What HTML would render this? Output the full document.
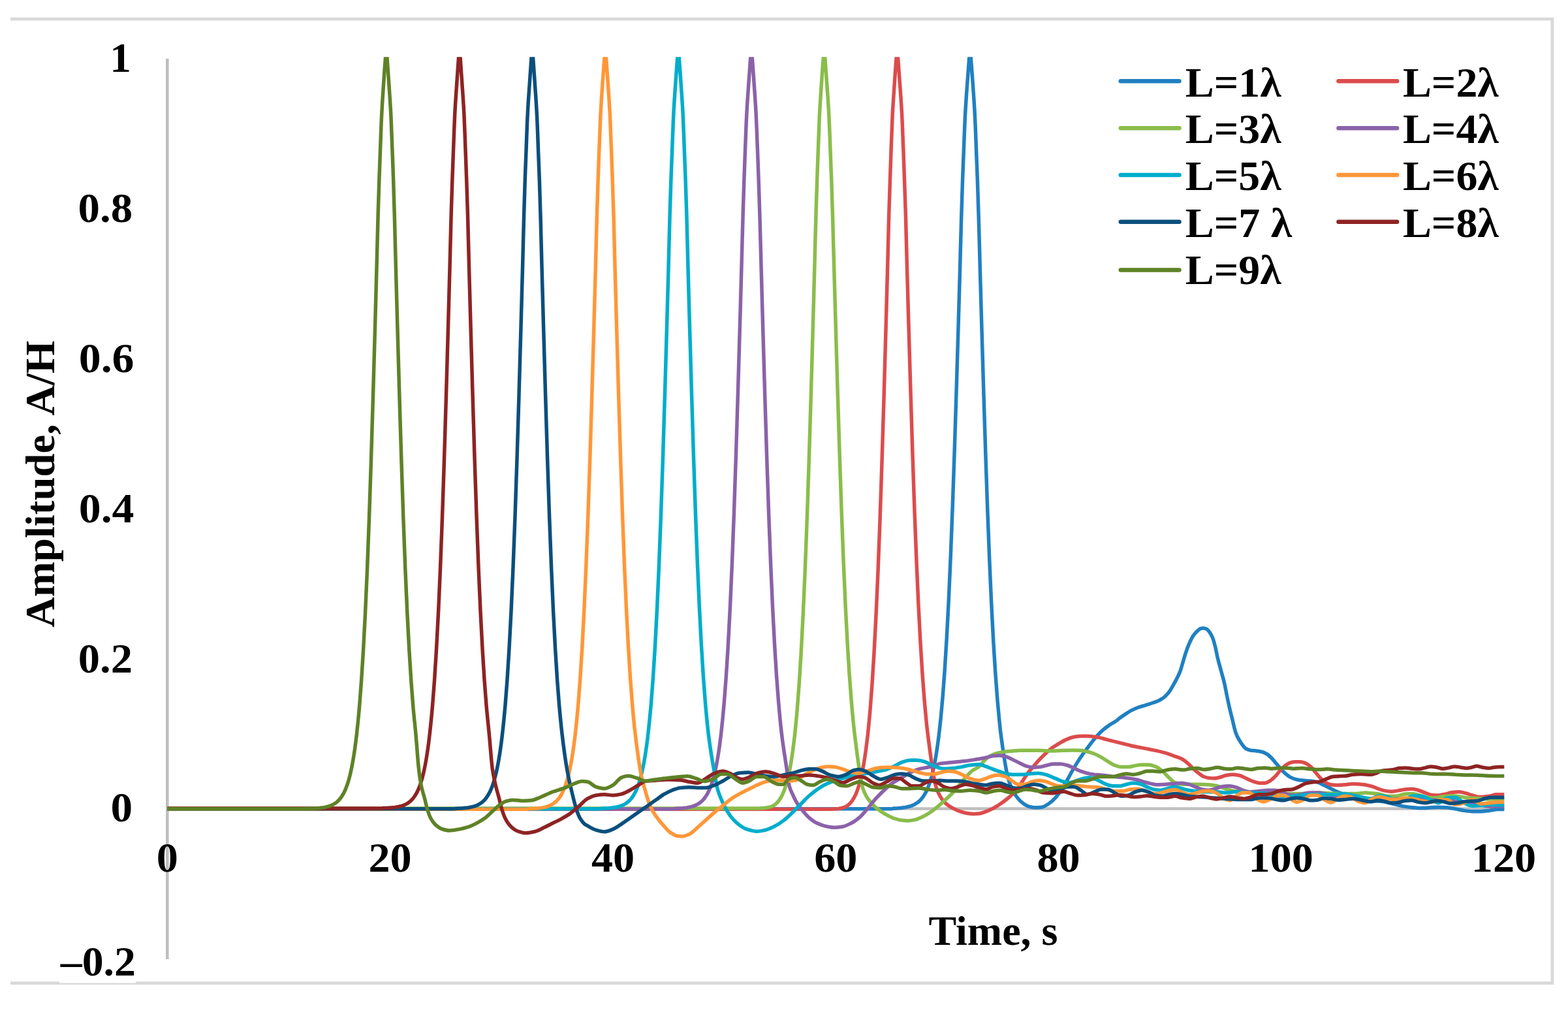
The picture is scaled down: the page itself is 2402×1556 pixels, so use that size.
<!DOCTYPE html>
<html lang="en">
<head>
<meta charset="utf-8">
<title>Amplitude vs Time</title>
<style>
html,body{margin:0;padding:0;background:#fff;}
body{width:2402px;height:1556px;overflow:hidden;}
svg{display:block;}
text{font-family:"Liberation Serif","DejaVu Serif",serif;font-weight:bold;font-size:64px;fill:#000;}
.s{fill:none;stroke-width:5.5;stroke-linejoin:miter;stroke-miterlimit:3;stroke-linecap:butt;}
.lg{fill:none;stroke-width:6.6;stroke-linecap:round;}
</style>
</head>
<body>
<svg width="2402" height="1556" viewBox="0 0 2402 1556">
<rect x="0" y="0" width="2402" height="1556" fill="#ffffff"/>
<path d="M16 29.1H2378V1505.7H16" fill="none" stroke="#d9d9d9" stroke-width="4.8" stroke-linejoin="miter"/>
<rect x="91" y="1440" width="117" height="65.5" fill="#ffffff"/>
<path d="M256.3 89.8V1469.1" fill="none" stroke="#bfbfbf" stroke-width="4.6"/>
<path d="M254.0 1238.5H2304.3" fill="none" stroke="#bfbfbf" stroke-width="4.6"/>
<text transform="translate(201.0 110.0) scale(1.020 1)" text-anchor="end">1</text>
<text transform="translate(203.2 340.3) scale(1.045 1)" text-anchor="end">0.8</text>
<text transform="translate(205.5 570.1) scale(1.060 1)" text-anchor="end">0.6</text>
<text transform="translate(205.5 799.8) scale(1.060 1)" text-anchor="end">0.4</text>
<text transform="translate(203.0 1029.6) scale(1.040 1)" text-anchor="end">0.2</text>
<text transform="translate(203.0 1258.3) scale(1.050 1)" text-anchor="end">0</text>
<text transform="translate(207.9 1493.7) scale(1.028 1)" text-anchor="end">–0.2</text>
<text transform="translate(256.3 1334.9) scale(1.035 1)" text-anchor="middle">0</text>
<text transform="translate(597.6 1334.9) scale(1.035 1)" text-anchor="middle">20</text>
<text transform="translate(939.0 1334.9) scale(1.035 1)" text-anchor="middle">40</text>
<text transform="translate(1280.3 1334.9) scale(1.035 1)" text-anchor="middle">60</text>
<text transform="translate(1621.6 1334.9) scale(1.035 1)" text-anchor="middle">80</text>
<text transform="translate(1962.2 1334.9) scale(1.035 1)" text-anchor="middle">100</text>
<text transform="translate(2303.5 1334.9) scale(1.035 1)" text-anchor="middle">120</text>
<text transform="translate(1521.5 1446.8)" text-anchor="middle">Time, s</text>
<text transform="translate(82.6 741.3) rotate(-90) scale(1.013 1)" text-anchor="middle">Amplitude, A/H</text>
<path class="s" stroke="#2080c2" d="M256.3 1238.7C626.2 1238.7 996.1 1238.7 1366.0 1238.7C1367.0 1238.7 1368.0 1238.2 1369.0 1238.1C1370.0 1238.0 1371.0 1238.0 1372.0 1238.0C1373.0 1237.9 1374.0 1237.8 1375.0 1237.8C1376.0 1237.7 1377.0 1237.6 1378.0 1237.5C1379.0 1237.4 1380.0 1237.3 1381.0 1237.2C1382.0 1237.1 1383.0 1237.0 1384.0 1236.8C1385.0 1236.7 1386.0 1236.5 1387.0 1236.4C1388.0 1236.2 1389.0 1236.0 1390.0 1235.8C1391.0 1235.5 1392.0 1235.3 1393.0 1235.0C1394.0 1234.7 1395.0 1234.4 1396.0 1234.1C1397.0 1233.7 1398.0 1233.3 1399.0 1232.9C1400.0 1232.4 1401.0 1231.9 1402.0 1231.3C1403.0 1230.8 1404.0 1230.2 1405.0 1229.5C1406.0 1228.8 1407.0 1228.0 1408.0 1227.1C1409.0 1226.2 1410.0 1225.2 1411.0 1224.1C1412.0 1223.0 1413.0 1221.7 1414.0 1220.4C1415.0 1219.0 1416.0 1217.4 1417.0 1215.7C1418.0 1213.9 1419.0 1212.0 1420.0 1209.8C1421.0 1207.6 1422.0 1205.2 1423.0 1202.4C1424.0 1199.7 1425.0 1196.6 1426.0 1193.3C1427.0 1189.9 1428.0 1186.0 1429.0 1181.8C1430.0 1177.6 1431.0 1172.8 1432.0 1167.6C1433.0 1162.3 1434.0 1156.4 1435.0 1149.9C1436.0 1143.4 1437.0 1135.9 1438.0 1128.1C1438.2 1126.7 1438.3 1125.3 1438.5 1123.8C1439.4 1116.6 1440.2 1109.0 1441.1 1100.6C1442.1 1090.7 1443.1 1079.7 1444.1 1067.7C1445.1 1055.6 1446.1 1042.2 1447.1 1027.7C1448.1 1013.2 1449.1 997.1 1450.1 979.7C1451.1 962.3 1452.1 943.2 1453.1 922.7C1454.1 902.1 1455.1 879.7 1456.1 855.8C1457.1 832.0 1458.1 806.1 1459.1 779.0C1460.1 751.9 1461.1 722.6 1462.1 692.5C1463.1 662.4 1464.1 630.3 1465.1 597.9C1466.1 565.4 1467.1 531.9 1468.1 497.8C1468.9 469.5 1469.7 440.7 1470.6 410.9C1471.3 384.7 1472.0 354.4 1472.8 330.1C1473.4 309.8 1474.0 291.5 1474.6 274.5C1475.2 257.0 1475.9 241.7 1476.5 225.9C1477.2 209.3 1477.8 190.0 1478.5 177.3C1479.6 156.9 1480.6 143.8 1481.7 128.6C1482.7 114.9 1483.6 102.0 1484.6 90.0L1487.4 90.0C1488.4 102.0 1489.3 114.9 1490.3 128.6C1491.3 143.8 1492.4 156.9 1493.4 177.3C1494.1 190.0 1494.8 209.3 1495.4 225.9C1496.0 241.7 1496.7 257.0 1497.3 274.5C1497.9 291.5 1498.5 309.8 1499.1 330.1C1499.9 354.4 1500.6 384.7 1501.3 410.9C1502.1 440.9 1503.0 469.9 1503.8 498.5C1504.8 532.8 1505.8 566.6 1506.8 599.3C1507.8 631.9 1508.8 664.2 1509.8 694.5C1510.8 724.8 1511.8 754.2 1512.8 781.4C1513.8 808.7 1514.8 834.7 1515.8 858.6C1516.8 882.4 1517.8 904.9 1518.8 925.5C1519.8 946.0 1520.8 965.1 1521.8 982.5C1522.8 999.8 1523.8 1015.9 1524.8 1030.4C1525.8 1044.9 1526.8 1058.2 1527.8 1070.1C1528.8 1082.1 1529.8 1093.0 1530.8 1102.9C1531.6 1110.4 1532.3 1118.0 1533.1 1123.8C1536.8 1151.8 1540.4 1176.6 1544.1 1190.8C1545.8 1197.5 1547.6 1202.4 1549.3 1206.4C1551.4 1211.3 1553.6 1215.0 1555.8 1218.0C1558.8 1222.3 1561.8 1225.9 1564.9 1228.4C1568.3 1231.2 1571.8 1233.9 1575.2 1234.9C1578.7 1235.9 1582.1 1236.8 1585.6 1236.8C1589.1 1236.8 1592.5 1236.6 1596.0 1236.2C1599.4 1235.8 1602.9 1233.2 1606.4 1231.0C1609.8 1228.8 1613.3 1225.6 1616.7 1221.9C1620.2 1218.2 1623.6 1212.9 1627.1 1207.7C1629.7 1203.7 1632.3 1199.2 1634.9 1194.7C1637.5 1190.2 1640.1 1184.9 1642.7 1180.4C1645.3 1175.9 1647.9 1171.5 1650.5 1167.4C1653.0 1163.3 1655.6 1159.4 1658.2 1155.8C1660.8 1152.1 1663.4 1148.9 1666.0 1145.4C1668.6 1141.9 1671.2 1138.2 1673.8 1135.0C1676.4 1131.8 1679.0 1128.7 1681.6 1125.9C1684.2 1123.1 1686.8 1120.4 1689.4 1118.2C1692.8 1115.2 1696.3 1112.7 1699.7 1110.4C1703.2 1108.0 1706.7 1106.4 1710.1 1103.9C1711.7 1102.8 1713.3 1101.2 1714.9 1100.0C1717.4 1098.0 1720.0 1096.3 1722.6 1094.6C1726.1 1092.3 1729.6 1089.8 1733.0 1088.1C1736.5 1086.3 1739.9 1084.8 1743.4 1083.5C1746.8 1082.3 1750.3 1081.4 1753.8 1080.3C1757.2 1079.2 1760.7 1078.2 1764.1 1077.0C1767.6 1075.9 1771.1 1074.7 1774.5 1073.2C1777.1 1072.0 1779.7 1070.5 1782.3 1068.6C1784.9 1066.7 1787.5 1064.0 1790.1 1060.8C1792.2 1058.2 1794.4 1054.1 1796.6 1050.5C1798.7 1046.8 1800.9 1043.1 1803.0 1038.8C1804.8 1035.3 1806.5 1031.8 1808.2 1027.1C1809.5 1023.6 1810.8 1018.5 1812.1 1014.1C1813.4 1009.8 1814.7 1005.1 1816.0 1001.2C1817.7 995.9 1819.5 990.9 1821.2 986.9C1823.4 981.9 1825.5 977.1 1827.7 973.9C1829.9 970.8 1832.0 968.4 1834.2 966.4C1835.7 965.0 1837.2 963.4 1838.7 962.9C1840.2 962.4 1841.7 961.9 1843.3 961.9C1844.9 961.9 1846.5 962.5 1848.2 963.3C1849.7 964.0 1851.1 965.8 1852.6 967.7C1854.2 969.8 1855.9 972.7 1857.5 976.5C1858.8 979.6 1860.1 984.5 1861.4 989.5C1862.7 994.5 1864.0 1002.2 1865.3 1007.7C1867.0 1014.9 1868.8 1020.6 1870.5 1027.1C1872.2 1033.6 1874.0 1039.1 1875.7 1046.6C1877.0 1052.2 1878.3 1059.8 1879.6 1066.0C1880.9 1072.3 1882.2 1078.5 1883.5 1084.2C1884.8 1089.8 1886.1 1094.8 1887.4 1100.0C1889.4 1108.0 1891.4 1118.1 1893.4 1123.3C1895.1 1127.9 1896.8 1130.8 1898.6 1133.7C1900.3 1136.7 1902.0 1139.4 1903.8 1141.5C1905.5 1143.6 1907.2 1145.8 1908.9 1146.7C1911.5 1148.0 1914.1 1148.9 1916.7 1149.3C1919.3 1149.6 1921.9 1149.6 1924.5 1149.9C1927.1 1150.2 1929.7 1150.6 1932.3 1151.2C1934.9 1151.8 1937.5 1153.0 1940.1 1154.5C1942.7 1155.9 1945.3 1158.4 1947.9 1161.0C1950.5 1163.5 1953.0 1167.0 1955.6 1170.0C1957.8 1172.6 1960.0 1175.5 1962.1 1177.8C1964.3 1180.2 1966.5 1182.4 1968.6 1184.3C1971.2 1186.5 1973.8 1188.8 1976.4 1190.1C1979.9 1191.9 1983.3 1193.4 1986.8 1194.0C1990.2 1194.7 1993.7 1195.0 1997.1 1195.3C2000.6 1195.6 2004.1 1195.7 2007.5 1196.0C2011.0 1196.3 2014.4 1197.0 2017.9 1197.9C2021.4 1198.8 2024.8 1200.9 2028.3 1202.5C2031.7 1204.1 2035.2 1205.9 2038.7 1207.7C2042.1 1209.4 2045.6 1211.4 2049.0 1212.8C2052.5 1214.3 2055.9 1215.6 2059.4 1216.7C2063.7 1218.2 2068.1 1219.4 2072.4 1220.6C2076.7 1221.8 2081.0 1222.9 2085.3 1223.9C2090.2 1225.0 2095.1 1226.7 2100.0 1226.8C2104.3 1227.0 2108.6 1227.0 2113.0 1227.1C2117.3 1227.3 2121.6 1228.2 2125.9 1229.1C2130.3 1229.9 2134.6 1231.3 2138.9 1232.3C2143.2 1233.3 2147.6 1234.4 2151.9 1235.1C2156.2 1235.9 2160.5 1236.5 2164.9 1236.8C2169.2 1237.1 2173.5 1237.5 2177.8 1237.5C2182.1 1237.5 2186.5 1237.1 2190.8 1236.8C2195.1 1236.6 2199.4 1236.2 2203.8 1236.2C2208.1 1236.2 2212.4 1236.5 2216.7 1236.8C2221.1 1237.2 2225.4 1238.0 2229.7 1238.8C2234.0 1239.5 2238.3 1240.8 2242.7 1241.4C2247.0 1242.0 2251.3 1242.7 2255.6 1242.7C2260.0 1242.7 2264.3 1242.7 2268.6 1242.7C2272.9 1242.7 2277.3 1241.9 2281.6 1241.4C2285.9 1240.9 2290.2 1239.4 2294.6 1239.4C2297.8 1239.4 2301.1 1239.4 2304.3 1239.4"/>
<path class="s" stroke="#dc4c4c" d="M256.3 1239.3C589.0 1239.3 921.6 1239.3 1254.3 1239.3C1255.3 1239.3 1256.3 1239.3 1257.3 1239.3C1258.3 1239.3 1259.3 1239.3 1260.3 1239.3C1261.3 1239.3 1262.3 1239.3 1263.3 1239.3C1264.3 1239.3 1265.3 1239.3 1266.3 1239.2C1267.3 1239.2 1268.3 1239.2 1269.3 1239.2C1270.3 1239.2 1271.3 1239.2 1272.3 1239.2C1273.3 1239.1 1274.3 1239.1 1275.3 1239.1C1276.3 1239.1 1277.3 1239.0 1278.3 1239.0C1279.3 1238.9 1280.3 1238.8 1281.3 1238.8C1282.3 1238.7 1283.3 1238.6 1284.3 1238.5C1285.3 1238.3 1286.3 1238.2 1287.3 1238.0C1288.3 1237.8 1289.3 1237.6 1290.3 1237.3C1291.3 1237.1 1292.3 1236.7 1293.3 1236.4C1294.3 1236.0 1295.3 1235.5 1296.3 1234.9C1297.3 1234.4 1298.3 1233.7 1299.3 1232.9C1300.3 1232.2 1301.3 1231.2 1302.3 1230.2C1303.3 1229.1 1304.3 1227.9 1305.3 1226.5C1306.3 1225.1 1307.3 1223.5 1308.3 1221.7C1309.3 1219.9 1310.3 1217.8 1311.3 1215.5C1312.3 1213.2 1313.3 1210.5 1314.3 1207.6C1315.3 1204.6 1316.3 1201.3 1317.3 1197.5C1318.3 1193.8 1319.3 1189.6 1320.3 1185.0C1321.3 1180.4 1322.3 1175.1 1323.3 1169.3C1324.3 1163.5 1325.3 1156.9 1326.3 1149.7C1327.2 1143.0 1328.1 1135.6 1329.1 1127.3C1330.4 1115.1 1331.8 1101.2 1333.1 1085.5C1334.1 1073.9 1335.1 1060.5 1336.1 1046.0C1337.1 1031.5 1338.1 1015.3 1339.1 997.9C1340.1 980.4 1341.1 960.9 1342.1 940.1C1343.1 919.4 1344.1 896.9 1345.1 872.8C1346.1 848.6 1347.1 822.2 1348.1 794.4C1349.1 766.6 1350.1 736.4 1351.1 705.2C1352.1 674.0 1353.1 640.6 1354.1 606.8C1355.1 572.9 1356.1 537.7 1357.1 502.0C1357.9 472.3 1358.8 442.2 1359.6 410.9C1360.3 384.7 1361.0 354.4 1361.7 330.1C1362.3 309.8 1362.9 291.5 1363.5 274.5C1364.0 257.0 1364.7 241.7 1365.2 225.9C1365.9 209.3 1366.5 190.0 1367.1 177.3C1368.2 156.9 1369.2 143.8 1370.2 128.6C1371.1 114.9 1372.0 102.0 1373.0 90.0L1375.7 90.0C1376.6 102.0 1377.6 114.9 1378.5 128.6C1379.6 143.8 1380.7 156.9 1381.7 177.3C1382.4 190.0 1383.0 209.3 1383.7 225.9C1384.3 241.7 1384.9 257.0 1385.5 274.5C1386.1 291.5 1386.8 309.8 1387.4 330.1C1388.1 354.4 1388.8 384.7 1389.5 410.9C1390.4 441.1 1391.2 470.2 1392.0 498.9C1393.0 533.4 1394.0 567.4 1395.0 600.2C1396.0 633.0 1397.0 665.5 1398.0 695.9C1399.0 726.3 1400.0 755.8 1401.0 783.1C1402.0 810.4 1403.0 836.4 1404.0 860.4C1405.0 884.3 1406.0 906.8 1407.0 927.3C1408.0 947.9 1409.0 967.0 1410.0 984.3C1411.0 1001.7 1412.0 1017.7 1413.0 1032.1C1414.0 1046.6 1415.0 1059.9 1416.0 1071.8C1417.0 1083.7 1418.0 1094.5 1419.0 1104.4C1419.7 1111.4 1420.5 1118.2 1421.2 1123.8C1425.3 1156.2 1429.4 1189.3 1433.5 1203.8C1434.8 1208.3 1436.1 1211.4 1437.4 1214.1C1439.1 1217.8 1440.8 1220.8 1442.5 1223.2C1444.7 1226.3 1446.9 1228.9 1449.0 1230.7C1452.5 1233.8 1455.9 1235.9 1459.4 1237.7C1462.9 1239.6 1466.3 1241.2 1469.8 1242.4C1473.2 1243.6 1476.7 1244.8 1480.2 1245.3C1484.0 1245.8 1487.9 1246.4 1491.8 1246.4C1494.6 1246.4 1497.3 1246.3 1500.0 1246.0C1503.5 1245.8 1506.9 1244.2 1510.4 1242.9C1513.8 1241.7 1517.3 1240.0 1520.8 1238.3C1524.2 1236.5 1527.7 1234.3 1531.1 1232.0C1534.6 1229.8 1538.0 1227.3 1541.5 1224.5C1545.0 1221.8 1548.4 1218.9 1551.9 1215.4C1554.5 1212.8 1557.1 1209.8 1559.7 1206.4C1562.3 1203.0 1564.9 1198.6 1567.4 1194.7C1570.0 1190.8 1572.6 1186.4 1575.2 1183.0C1577.8 1179.6 1580.4 1177.0 1583.0 1173.9C1585.6 1170.9 1588.2 1167.7 1590.8 1164.9C1594.2 1161.1 1597.7 1157.7 1601.2 1154.5C1604.6 1151.2 1608.1 1147.9 1611.5 1145.4C1615.0 1142.9 1618.5 1141.0 1621.9 1138.9C1625.4 1136.9 1628.8 1134.6 1632.3 1133.1C1635.8 1131.5 1639.2 1130.0 1642.7 1129.2C1646.1 1128.4 1649.6 1127.6 1653.0 1127.5C1656.5 1127.3 1660.0 1127.2 1663.4 1127.2C1666.9 1127.2 1670.3 1127.6 1673.8 1127.9C1677.3 1128.2 1680.7 1128.9 1684.2 1129.6C1687.6 1130.3 1691.1 1131.5 1694.6 1132.4C1698.9 1133.6 1703.2 1134.6 1707.5 1135.7C1711.8 1136.7 1716.2 1137.8 1720.5 1138.9C1724.8 1140.0 1729.1 1141.2 1733.5 1142.2C1737.8 1143.1 1742.1 1143.9 1746.4 1144.7C1750.8 1145.6 1755.1 1146.5 1759.4 1147.3C1763.7 1148.2 1768.1 1149.0 1772.4 1149.9C1776.7 1150.9 1781.0 1151.9 1785.3 1153.2C1790.2 1154.6 1795.1 1156.6 1800.0 1158.4C1803.5 1159.6 1806.9 1160.5 1810.4 1162.3C1813.8 1164.0 1817.3 1167.1 1820.8 1170.0C1823.3 1172.3 1825.9 1175.5 1828.5 1177.8C1831.1 1180.2 1833.7 1182.4 1836.3 1184.3C1838.9 1186.2 1841.5 1188.6 1844.1 1189.5C1846.7 1190.4 1849.3 1191.1 1851.9 1191.4C1854.5 1191.8 1857.1 1192.1 1859.7 1192.1C1862.3 1192.1 1864.9 1191.3 1867.4 1190.8C1870.9 1190.1 1874.4 1188.2 1877.8 1187.5C1881.3 1186.9 1884.7 1186.3 1888.2 1186.3C1891.7 1186.3 1895.1 1186.9 1898.6 1187.5C1902.0 1188.2 1905.5 1190.6 1908.9 1192.1C1912.4 1193.6 1915.9 1195.5 1919.3 1196.6C1922.8 1197.7 1926.2 1199.2 1929.7 1199.2C1932.3 1199.2 1934.9 1199.2 1937.5 1199.2C1940.1 1199.2 1942.7 1197.4 1945.3 1196.0C1947.9 1194.5 1950.5 1192.0 1953.0 1189.5C1955.6 1187.0 1958.2 1183.2 1960.8 1180.4C1963.4 1177.6 1966.0 1174.5 1968.6 1172.6C1971.2 1170.7 1973.8 1168.8 1976.4 1168.1C1979.0 1167.4 1981.6 1166.8 1984.2 1166.8C1986.8 1166.8 1989.4 1166.8 1992.0 1166.8C1994.6 1166.8 1997.1 1167.8 1999.7 1168.7C2002.3 1169.7 2004.9 1171.7 2007.5 1173.9C2010.1 1176.1 2012.7 1180.0 2015.3 1183.0C2017.9 1186.0 2020.5 1189.6 2023.1 1192.1C2025.7 1194.6 2028.3 1197.1 2030.9 1198.6C2033.5 1200.0 2036.1 1201.5 2038.7 1201.8C2042.1 1202.2 2045.6 1202.5 2049.0 1202.5C2052.5 1202.5 2055.9 1202.1 2059.4 1201.8C2063.7 1201.5 2068.1 1200.5 2072.4 1200.5C2076.7 1200.5 2081.0 1200.8 2085.3 1201.2C2090.2 1201.5 2095.1 1202.6 2100.0 1203.8C2103.5 1204.6 2106.9 1206.5 2110.4 1207.7C2113.8 1208.8 2117.3 1210.3 2120.8 1210.9C2124.2 1211.5 2127.7 1212.2 2131.1 1212.2C2134.6 1212.2 2138.0 1211.4 2141.5 1210.9C2145.0 1210.4 2148.4 1209.3 2151.9 1208.9C2155.3 1208.6 2158.8 1208.3 2162.3 1208.3C2165.7 1208.3 2169.2 1209.4 2172.6 1210.2C2176.1 1211.1 2179.6 1213.0 2183.0 1214.1C2186.5 1215.3 2189.9 1217.0 2193.4 1217.4C2196.8 1217.7 2200.3 1218.0 2203.8 1218.0C2207.2 1218.0 2210.7 1216.8 2214.1 1216.1C2217.6 1215.3 2221.1 1213.8 2224.5 1213.5C2228.0 1213.1 2231.4 1212.8 2234.9 1212.8C2238.3 1212.8 2241.8 1214.0 2245.3 1214.8C2248.7 1215.6 2252.2 1217.1 2255.6 1218.0C2259.1 1219.0 2262.6 1220.6 2266.0 1220.6C2271.2 1220.6 2276.4 1220.0 2281.6 1219.3C2285.0 1218.9 2288.5 1216.7 2292.0 1216.7C2296.1 1216.7 2300.2 1216.7 2304.3 1216.7"/>
<path class="s" stroke="#8abd4a" d="M256.3 1238.1C551.7 1238.1 847.1 1238.1 1142.5 1238.1C1143.5 1238.1 1144.5 1238.1 1145.5 1238.1C1146.5 1238.1 1147.5 1238.1 1148.5 1238.1C1149.5 1238.1 1150.5 1238.1 1151.5 1238.1C1152.5 1238.1 1153.5 1238.1 1154.5 1238.0C1155.5 1238.0 1156.5 1238.0 1157.5 1238.0C1158.5 1238.0 1159.5 1238.0 1160.5 1238.0C1161.5 1237.9 1162.5 1237.9 1163.5 1237.9C1164.5 1237.9 1165.5 1237.8 1166.5 1237.8C1167.5 1237.7 1168.5 1237.7 1169.5 1237.6C1170.5 1237.5 1171.5 1237.4 1172.5 1237.3C1173.5 1237.2 1174.5 1237.0 1175.5 1236.8C1176.5 1236.7 1177.5 1236.5 1178.5 1236.2C1179.5 1235.9 1180.5 1235.6 1181.5 1235.2C1182.5 1234.8 1183.5 1234.4 1184.5 1233.8C1185.5 1233.3 1186.5 1232.6 1187.5 1231.9C1188.5 1231.1 1189.5 1230.2 1190.5 1229.2C1191.5 1228.2 1192.5 1227.0 1193.5 1225.6C1194.5 1224.3 1195.5 1222.7 1196.5 1221.0C1197.5 1219.2 1198.5 1217.2 1199.5 1214.9C1200.5 1212.6 1201.5 1210.1 1202.5 1207.2C1203.5 1204.3 1204.5 1201.1 1205.5 1197.4C1206.5 1193.8 1207.5 1189.6 1208.5 1185.0C1209.5 1180.4 1210.5 1175.1 1211.5 1169.3C1212.5 1163.5 1213.5 1156.9 1214.5 1149.7C1215.4 1143.0 1216.3 1135.6 1217.3 1127.3C1218.6 1115.1 1220.0 1101.2 1221.3 1085.5C1222.3 1073.9 1223.3 1060.5 1224.3 1046.0C1225.3 1031.5 1226.3 1015.3 1227.3 997.9C1228.3 980.4 1229.3 960.9 1230.3 940.1C1231.3 919.4 1232.3 896.9 1233.3 872.8C1234.3 848.6 1235.3 822.2 1236.3 794.4C1237.3 766.6 1238.3 736.4 1239.3 705.2C1240.3 674.0 1241.3 640.6 1242.3 606.8C1243.3 572.9 1244.3 537.7 1245.3 502.0C1246.1 472.3 1247.0 442.2 1247.8 410.9C1248.5 384.7 1249.2 354.4 1249.9 330.1C1250.5 309.8 1251.1 291.5 1251.7 274.5C1252.2 257.0 1252.9 241.7 1253.5 225.9C1254.1 209.3 1254.7 190.0 1255.3 177.3C1256.4 156.9 1257.4 143.8 1258.4 128.6C1259.3 114.9 1260.2 102.0 1261.2 90.0L1263.9 90.0C1264.8 102.0 1265.8 114.9 1266.7 128.6C1267.8 143.8 1268.8 156.9 1269.9 177.3C1270.5 190.0 1271.2 209.3 1271.8 225.9C1272.4 241.7 1273.1 257.0 1273.7 274.5C1274.3 291.5 1274.9 309.8 1275.5 330.1C1276.2 354.4 1276.9 384.7 1277.7 410.9C1278.5 441.2 1279.3 470.5 1280.2 499.4C1281.2 534.0 1282.2 568.2 1283.2 601.1C1284.2 634.1 1285.2 666.7 1286.2 697.2C1287.2 727.7 1288.2 757.3 1289.2 784.7C1290.2 812.1 1291.2 838.2 1292.2 862.2C1293.2 886.1 1294.2 908.7 1295.2 929.2C1296.2 949.7 1297.2 968.9 1298.2 986.2C1299.2 1003.5 1300.2 1019.5 1301.2 1033.9C1302.2 1048.3 1303.2 1061.8 1304.2 1073.4C1305.8 1092.6 1307.5 1110.2 1309.1 1123.8C1313.4 1158.9 1317.7 1194.3 1321.9 1207.7C1323.6 1213.1 1325.4 1216.3 1327.1 1219.3C1329.3 1223.1 1331.4 1225.9 1333.6 1228.4C1336.6 1232.0 1339.6 1235.0 1342.7 1237.5C1347.0 1241.1 1351.3 1244.0 1355.6 1246.6C1360.0 1249.1 1364.3 1251.6 1368.6 1253.0C1372.9 1254.5 1377.3 1255.8 1381.6 1256.3C1384.6 1256.6 1387.6 1256.9 1390.7 1256.9C1394.1 1256.9 1397.6 1256.3 1401.0 1255.6C1405.4 1254.8 1409.7 1252.5 1414.0 1250.5C1418.3 1248.4 1422.7 1245.6 1427.0 1242.7C1431.3 1239.7 1435.6 1236.0 1439.9 1232.3C1444.3 1228.6 1448.6 1224.7 1452.9 1220.6C1456.4 1217.3 1459.8 1214.1 1463.3 1210.2C1466.3 1206.8 1469.3 1202.2 1472.4 1198.6C1475.4 1194.9 1478.4 1191.4 1481.5 1188.2C1484.0 1185.4 1486.6 1182.4 1489.2 1180.4C1492.8 1177.7 1496.4 1176.8 1500.0 1173.9C1502.6 1171.8 1505.2 1167.4 1507.8 1164.9C1510.4 1162.3 1513.0 1159.9 1515.6 1158.4C1519.0 1156.4 1522.5 1154.8 1525.9 1153.8C1530.3 1152.6 1534.6 1151.8 1538.9 1151.2C1543.2 1150.7 1547.6 1150.2 1551.9 1149.9C1556.2 1149.6 1560.5 1149.3 1564.9 1149.3C1569.2 1149.3 1573.5 1149.3 1577.8 1149.3C1582.1 1149.3 1586.5 1149.3 1590.8 1149.3C1595.1 1149.3 1599.4 1149.9 1603.8 1149.9C1608.1 1149.9 1612.4 1149.9 1616.7 1149.9C1621.1 1149.9 1625.4 1149.4 1629.7 1149.3C1634.0 1149.2 1638.3 1149.0 1642.7 1149.0C1647.0 1149.0 1651.3 1149.1 1655.6 1149.3C1659.1 1149.4 1662.6 1150.4 1666.0 1151.2C1669.5 1152.0 1672.9 1153.1 1676.4 1154.5C1679.9 1155.8 1683.3 1157.7 1686.8 1159.7C1690.2 1161.6 1693.7 1164.1 1697.1 1166.1C1700.6 1168.2 1704.1 1170.8 1707.5 1172.0C1711.0 1173.2 1714.4 1174.6 1717.9 1174.6C1721.4 1174.6 1724.8 1174.6 1728.3 1174.6C1731.7 1174.6 1735.2 1173.2 1738.7 1172.6C1742.1 1172.1 1745.6 1171.3 1749.0 1171.3C1752.5 1171.3 1755.9 1171.3 1759.4 1171.3C1762.9 1171.3 1766.3 1172.7 1769.8 1173.9C1773.2 1175.2 1776.7 1177.8 1780.2 1180.4C1783.6 1183.1 1787.1 1187.7 1790.5 1190.8C1793.7 1193.6 1796.8 1197.5 1800.0 1198.6C1804.3 1200.0 1808.6 1201.2 1813.0 1201.2C1817.3 1201.2 1821.6 1201.2 1825.9 1201.2C1830.3 1201.2 1834.6 1201.2 1838.9 1201.2C1843.2 1201.2 1847.6 1201.5 1851.9 1201.8C1856.2 1202.1 1860.5 1202.8 1864.9 1203.8C1867.4 1204.3 1870.0 1205.5 1872.6 1206.4C1875.2 1207.2 1877.8 1208.2 1880.4 1208.9C1883.9 1209.9 1887.3 1211.2 1890.8 1211.5C1899.4 1212.3 1908.1 1212.4 1916.7 1212.8C1925.4 1213.3 1934.0 1213.7 1942.7 1214.1C1951.3 1214.6 1960.0 1215.4 1968.6 1215.4C1977.3 1215.4 1985.9 1215.4 1994.6 1215.4C2003.2 1215.4 2011.8 1214.1 2020.5 1214.1C2029.1 1214.1 2037.8 1215.4 2046.4 1215.4C2057.2 1215.4 2068.1 1215.4 2078.9 1215.4C2083.2 1215.4 2087.5 1214.1 2091.8 1214.1C2094.6 1214.1 2097.3 1214.5 2100.0 1214.8C2104.3 1215.2 2108.6 1215.5 2113.0 1216.1C2117.3 1216.7 2121.6 1219.3 2125.9 1219.3C2130.3 1219.3 2134.6 1219.3 2138.9 1219.3C2143.2 1219.3 2147.6 1216.5 2151.9 1216.1C2155.3 1215.7 2158.8 1215.4 2162.3 1215.4C2165.7 1215.4 2169.2 1216.6 2172.6 1217.4C2176.5 1218.2 2180.4 1220.0 2184.3 1220.6C2188.6 1221.3 2193.0 1221.9 2197.3 1221.9C2201.6 1221.9 2205.9 1220.5 2210.2 1220.0C2214.6 1219.5 2218.9 1218.7 2223.2 1218.7C2227.5 1218.7 2231.9 1219.5 2236.2 1220.0C2240.5 1220.5 2244.8 1221.6 2249.2 1221.9C2253.5 1222.2 2257.8 1222.3 2262.1 1222.6C2268.6 1222.9 2275.1 1223.9 2281.6 1223.9C2289.2 1223.9 2296.7 1223.9 2304.3 1223.9"/>
<path class="s" stroke="#8b62a9" d="M256.3 1238.9C514.5 1238.9 772.8 1238.9 1031.0 1238.9C1032.0 1238.9 1033.0 1238.5 1034.0 1238.4C1035.0 1238.4 1036.0 1238.3 1037.0 1238.3C1038.0 1238.2 1039.0 1238.2 1040.0 1238.1C1041.0 1238.1 1042.0 1238.0 1043.0 1237.9C1044.0 1237.9 1045.0 1237.8 1046.0 1237.7C1047.0 1237.6 1048.0 1237.5 1049.0 1237.3C1050.0 1237.2 1051.0 1237.1 1052.0 1236.9C1053.0 1236.8 1054.0 1236.6 1055.0 1236.4C1056.0 1236.2 1057.0 1236.0 1058.0 1235.8C1059.0 1235.5 1060.0 1235.2 1061.0 1234.9C1062.0 1234.6 1063.0 1234.3 1064.0 1233.9C1065.0 1233.5 1066.0 1233.0 1067.0 1232.5C1068.0 1232.1 1069.0 1231.5 1070.0 1230.9C1071.0 1230.2 1072.0 1229.5 1073.0 1228.8C1074.0 1228.0 1075.0 1227.1 1076.0 1226.1C1077.0 1225.1 1078.0 1224.0 1079.0 1222.7C1080.0 1221.4 1081.0 1220.0 1082.0 1218.4C1083.0 1216.9 1084.0 1215.1 1085.0 1213.1C1086.0 1211.1 1087.0 1208.8 1088.0 1206.3C1089.0 1203.8 1090.0 1201.0 1091.0 1197.8C1092.0 1194.7 1093.0 1191.2 1094.0 1187.2C1095.0 1183.3 1096.0 1178.9 1097.0 1174.0C1098.0 1169.1 1099.0 1163.5 1100.0 1157.4C1101.0 1151.3 1102.0 1144.3 1103.0 1136.8C1103.5 1132.8 1104.1 1128.6 1104.6 1123.8C1106.2 1109.7 1107.8 1093.6 1109.4 1075.0C1110.4 1063.5 1111.4 1050.0 1112.4 1035.6C1113.4 1021.3 1114.4 1005.3 1115.4 988.0C1116.4 970.7 1117.4 951.6 1118.4 931.0C1119.4 910.5 1120.4 887.9 1121.4 863.9C1122.4 839.9 1123.4 813.8 1124.4 786.3C1125.4 758.9 1126.4 729.2 1127.4 698.5C1128.4 667.9 1129.4 635.2 1130.4 602.1C1131.4 569.0 1132.4 534.6 1133.4 499.8C1134.3 470.8 1135.1 441.4 1135.9 410.9C1136.6 384.7 1137.4 354.4 1138.1 330.1C1138.7 309.8 1139.3 291.5 1139.9 274.5C1140.5 257.0 1141.1 241.7 1141.7 225.9C1142.4 209.3 1143.0 190.0 1143.7 177.3C1144.7 156.9 1145.8 143.8 1146.8 128.6C1147.7 114.9 1148.7 102.0 1149.6 90.0L1152.4 90.0C1153.3 102.0 1154.3 114.9 1155.2 128.6C1156.2 143.8 1157.3 156.9 1158.3 177.3C1159.0 190.0 1159.6 209.3 1160.3 225.9C1160.9 241.7 1161.5 257.0 1162.1 274.5C1162.7 291.5 1163.3 309.8 1163.9 330.1C1164.6 354.4 1165.4 384.7 1166.1 410.9C1166.9 441.4 1167.7 470.8 1168.6 499.8C1169.6 534.6 1170.6 569.0 1171.6 602.1C1172.6 635.2 1173.6 667.9 1174.6 698.5C1175.6 729.2 1176.6 758.9 1177.6 786.3C1178.6 813.8 1179.6 839.9 1180.6 863.9C1181.6 887.9 1182.6 910.5 1183.6 931.0C1184.6 951.6 1185.6 970.7 1186.6 988.0C1187.6 1005.3 1188.6 1021.3 1189.6 1035.6C1190.6 1050.0 1191.6 1063.5 1192.6 1075.0C1194.2 1093.6 1195.8 1110.4 1197.4 1123.8C1200.0 1145.5 1202.6 1160.2 1205.2 1177.8C1206.5 1186.6 1207.8 1198.9 1209.1 1203.8C1210.8 1210.2 1212.5 1212.9 1214.3 1216.7C1216.4 1221.6 1218.6 1226.2 1220.8 1229.7C1223.3 1233.9 1225.9 1236.9 1228.5 1240.1C1232.0 1244.3 1235.5 1248.7 1238.9 1251.8C1243.2 1255.5 1247.6 1258.8 1251.9 1260.8C1256.2 1262.8 1260.5 1264.5 1264.9 1265.4C1269.2 1266.3 1273.5 1267.3 1277.8 1267.3C1282.1 1267.3 1286.5 1266.7 1290.8 1266.0C1295.1 1265.3 1299.4 1263.0 1303.8 1260.8C1308.1 1258.6 1312.4 1255.4 1316.7 1251.8C1321.1 1248.1 1325.4 1242.4 1329.7 1237.5C1334.0 1232.5 1338.3 1226.6 1342.7 1221.9C1347.0 1217.2 1351.3 1213.0 1355.6 1208.9C1359.1 1205.7 1362.6 1202.3 1366.0 1199.9C1371.2 1196.2 1376.4 1193.9 1381.6 1190.8C1385.9 1188.2 1390.2 1185.1 1394.6 1183.0C1398.9 1180.9 1403.2 1179.0 1407.5 1177.8C1411.8 1176.7 1416.2 1176.2 1420.5 1175.2C1424.0 1174.5 1427.4 1173.7 1430.9 1172.6C1433.9 1171.7 1436.9 1169.9 1439.9 1169.4C1444.3 1168.7 1448.6 1168.5 1452.9 1168.1C1457.2 1167.7 1461.6 1167.2 1465.9 1166.8C1470.2 1166.4 1474.5 1166.0 1478.9 1165.5C1483.2 1165.0 1487.5 1164.2 1491.8 1163.6C1494.6 1163.1 1497.3 1162.7 1500.0 1162.3C1503.5 1161.7 1506.9 1161.1 1510.4 1160.3C1513.8 1159.6 1517.3 1158.1 1520.8 1157.7C1524.2 1157.4 1527.7 1157.1 1531.1 1157.1C1534.6 1157.1 1538.0 1158.1 1541.5 1159.0C1545.0 1159.9 1548.4 1161.9 1551.9 1163.6C1555.3 1165.2 1558.8 1167.1 1562.3 1168.7C1565.7 1170.4 1569.2 1172.4 1572.6 1173.3C1576.1 1174.2 1579.6 1175.2 1583.0 1175.2C1586.5 1175.2 1589.9 1174.9 1593.4 1174.6C1596.8 1174.2 1600.3 1172.7 1603.8 1172.0C1607.2 1171.2 1610.7 1170.0 1614.1 1170.0C1617.6 1170.0 1621.1 1170.0 1624.5 1170.0C1628.0 1170.0 1631.4 1171.1 1634.9 1172.0C1638.3 1172.9 1641.8 1175.0 1645.3 1176.5C1648.7 1178.0 1652.2 1179.8 1655.6 1181.1C1659.1 1182.3 1662.6 1183.5 1666.0 1184.3C1669.5 1185.1 1672.9 1185.9 1676.4 1186.3C1679.9 1186.6 1683.3 1186.6 1686.8 1186.9C1693.7 1187.5 1700.6 1188.7 1707.5 1189.5C1711.8 1190.0 1716.2 1190.3 1720.5 1190.8C1724.0 1191.2 1727.4 1191.6 1730.9 1192.1C1734.3 1192.6 1737.8 1193.2 1741.2 1194.0C1744.7 1194.8 1748.2 1196.3 1751.6 1197.3C1755.1 1198.2 1758.5 1199.1 1762.0 1199.9C1765.5 1200.6 1768.9 1201.8 1772.4 1201.8C1776.7 1201.8 1781.0 1201.4 1785.3 1201.2C1790.2 1200.9 1795.1 1200.2 1800.0 1199.9C1803.5 1199.6 1806.9 1199.2 1810.4 1199.2C1813.8 1199.2 1817.3 1200.3 1820.8 1201.2C1824.2 1202.0 1827.7 1203.8 1831.1 1205.1C1834.6 1206.4 1838.0 1208.3 1841.5 1208.9C1845.0 1209.6 1848.4 1210.2 1851.9 1210.2C1855.3 1210.2 1858.8 1208.6 1862.3 1207.7C1865.7 1206.7 1869.2 1204.8 1872.6 1204.4C1876.1 1204.0 1879.6 1203.8 1883.0 1203.8C1886.5 1203.8 1889.9 1204.8 1893.4 1205.7C1896.8 1206.6 1900.3 1209.1 1903.8 1210.2C1907.2 1211.3 1910.7 1212.8 1914.1 1212.8C1919.3 1212.8 1924.5 1212.0 1929.7 1211.5C1934.0 1211.1 1938.3 1210.2 1942.7 1210.2C1946.1 1210.2 1949.6 1210.2 1953.0 1210.2C1956.5 1210.2 1960.0 1211.8 1963.4 1212.8C1966.9 1213.9 1970.3 1216.1 1973.8 1216.7C1977.3 1217.4 1980.7 1218.0 1984.2 1218.0C1987.6 1218.0 1991.1 1216.7 1994.6 1216.1C1998.9 1215.4 2003.2 1214.1 2007.5 1214.1C2011.8 1214.1 2016.2 1214.1 2020.5 1214.1C2024.8 1214.1 2029.1 1215.8 2033.5 1216.7C2036.9 1217.5 2040.4 1218.9 2043.8 1219.3C2049.0 1220.0 2054.2 1220.6 2059.4 1220.6C2063.7 1220.6 2068.1 1220.6 2072.4 1220.6C2076.7 1220.6 2081.0 1221.0 2085.3 1221.3C2090.2 1221.6 2095.1 1223.2 2100.0 1223.2C2108.6 1223.2 2117.3 1223.2 2125.9 1223.2C2134.6 1223.2 2143.2 1224.5 2151.9 1224.5C2160.5 1224.5 2169.2 1224.5 2177.8 1224.5C2186.5 1224.5 2195.1 1225.4 2203.8 1225.8C2212.4 1226.2 2221.1 1226.5 2229.7 1227.1C2238.3 1227.7 2247.0 1228.5 2255.6 1229.7C2264.3 1230.9 2272.9 1234.9 2281.6 1234.9C2289.2 1234.9 2296.7 1234.9 2304.3 1234.9"/>
<path class="s" stroke="#00adcb" d="M256.3 1238.7C477.2 1238.7 698.1 1238.7 919.0 1238.7C920.0 1238.7 921.0 1238.3 922.0 1238.2C923.0 1238.2 924.0 1238.2 925.0 1238.1C926.0 1238.1 927.0 1238.0 928.0 1238.0C929.0 1237.9 930.0 1237.8 931.0 1237.8C932.0 1237.7 933.0 1237.6 934.0 1237.5C935.0 1237.4 936.0 1237.3 937.0 1237.2C938.0 1237.1 939.0 1237.0 940.0 1236.8C941.0 1236.7 942.0 1236.5 943.0 1236.3C944.0 1236.1 945.0 1235.9 946.0 1235.7C947.0 1235.5 948.0 1235.2 949.0 1234.9C950.0 1234.6 951.0 1234.2 952.0 1233.9C953.0 1233.5 954.0 1233.1 955.0 1232.6C956.0 1232.1 957.0 1231.6 958.0 1231.0C959.0 1230.4 960.0 1229.7 961.0 1228.9C962.0 1228.1 963.0 1227.3 964.0 1226.3C965.0 1225.3 966.0 1224.2 967.0 1223.0C968.0 1221.8 969.0 1220.4 970.0 1218.9C971.0 1217.3 972.0 1215.6 973.0 1213.6C974.0 1211.7 975.0 1209.5 976.0 1207.1C977.0 1204.6 978.0 1201.8 979.0 1198.8C980.0 1195.7 981.0 1192.2 982.0 1188.4C983.0 1184.5 984.0 1180.1 985.0 1175.3C986.0 1170.5 987.0 1165.0 988.0 1159.0C989.0 1153.0 990.0 1146.1 991.0 1138.7C991.6 1134.1 992.2 1129.3 992.8 1123.8C994.4 1110.1 995.9 1094.5 997.5 1076.6C998.5 1065.1 999.5 1051.7 1000.5 1037.4C1001.5 1023.0 1002.5 1007.1 1003.5 989.8C1004.5 972.5 1005.5 953.4 1006.5 932.9C1007.5 912.3 1008.5 889.7 1009.5 865.7C1010.5 841.7 1011.5 815.5 1012.5 787.9C1013.5 760.4 1014.5 730.6 1015.5 699.9C1016.5 669.1 1017.5 636.3 1018.5 603.0C1019.5 569.8 1020.5 535.3 1021.5 500.3C1022.3 471.1 1023.2 441.6 1024.0 410.9C1024.7 384.7 1025.4 354.4 1026.1 330.1C1026.7 309.8 1027.3 291.5 1027.9 274.5C1028.5 257.0 1029.2 241.7 1029.8 225.9C1030.4 209.3 1031.1 190.0 1031.7 177.3C1032.7 156.9 1033.8 143.8 1034.8 128.6C1035.8 114.9 1036.7 102.0 1037.6 90.0L1040.4 90.0C1041.3 102.0 1042.2 114.9 1043.2 128.6C1044.2 143.8 1045.3 156.9 1046.3 177.3C1046.9 190.0 1047.6 209.3 1048.2 225.9C1048.8 241.7 1049.5 257.0 1050.1 274.5C1050.7 291.5 1051.3 309.8 1051.9 330.1C1052.6 354.4 1053.3 384.7 1054.0 410.9C1054.8 441.6 1055.7 471.1 1056.5 500.3C1057.5 535.3 1058.5 569.8 1059.5 603.0C1060.5 636.3 1061.5 669.1 1062.5 699.9C1063.5 730.6 1064.5 760.4 1065.5 787.9C1066.5 815.5 1067.5 841.7 1068.5 865.7C1069.5 889.7 1070.5 912.3 1071.5 932.9C1072.5 953.4 1073.5 972.5 1074.5 989.8C1075.5 1007.1 1076.5 1023.0 1077.5 1037.4C1078.5 1051.7 1079.5 1065.1 1080.5 1076.6C1082.1 1094.5 1083.6 1111.3 1085.2 1123.8C1088.3 1149.1 1091.4 1166.9 1094.6 1184.3C1096.3 1193.9 1098.0 1204.3 1099.7 1210.2C1101.9 1217.7 1104.1 1222.2 1106.2 1227.1C1108.4 1232.0 1110.5 1236.4 1112.7 1240.1C1115.3 1244.5 1117.9 1248.6 1120.5 1251.8C1124.0 1255.9 1127.4 1259.5 1130.9 1262.1C1135.2 1265.4 1139.5 1268.6 1143.8 1269.9C1149.0 1271.5 1154.2 1273.2 1159.4 1273.2C1163.7 1273.2 1168.1 1272.1 1172.4 1271.2C1176.7 1270.3 1181.0 1268.1 1185.3 1266.0C1190.2 1263.7 1195.1 1260.5 1200.0 1256.9C1204.3 1253.8 1208.6 1249.4 1213.0 1245.3C1217.3 1241.2 1221.6 1236.6 1225.9 1232.3C1230.3 1228.0 1234.6 1223.2 1238.9 1219.3C1243.2 1215.5 1247.6 1211.9 1251.9 1208.9C1256.2 1206.0 1260.5 1203.2 1264.9 1201.2C1269.2 1199.1 1273.5 1197.5 1277.8 1196.0C1282.1 1194.5 1286.5 1193.4 1290.8 1192.1C1295.1 1190.8 1299.4 1189.2 1303.8 1188.2C1308.1 1187.2 1312.4 1186.2 1316.7 1185.6C1321.1 1185.0 1325.4 1184.9 1329.7 1184.3C1334.0 1183.7 1338.3 1182.6 1342.7 1181.7C1347.0 1180.8 1351.3 1180.3 1355.6 1179.1C1360.0 1178.0 1364.3 1175.9 1368.6 1173.9C1372.9 1172.0 1377.3 1168.9 1381.6 1167.4C1385.9 1166.0 1390.2 1164.2 1394.6 1164.2C1398.0 1164.2 1401.5 1164.2 1404.9 1164.2C1408.4 1164.2 1411.8 1165.2 1415.3 1166.1C1418.8 1167.1 1422.2 1169.2 1425.7 1170.7C1429.1 1172.2 1432.6 1174.3 1436.1 1175.2C1439.5 1176.1 1443.0 1177.2 1446.4 1177.2C1450.8 1177.2 1455.1 1176.8 1459.4 1176.5C1463.7 1176.2 1468.1 1175.3 1472.4 1174.6C1476.7 1173.8 1481.0 1172.5 1485.3 1172.0C1490.2 1171.4 1495.1 1170.7 1500.0 1170.7C1503.5 1170.7 1506.9 1172.8 1510.4 1173.9C1513.8 1175.1 1517.3 1176.5 1520.8 1177.8C1524.2 1179.1 1527.7 1180.5 1531.1 1181.7C1534.6 1182.9 1538.0 1184.3 1541.5 1185.0C1545.0 1185.6 1548.4 1186.3 1551.9 1186.3C1556.2 1186.3 1560.5 1186.3 1564.9 1186.3C1569.2 1186.3 1573.5 1185.2 1577.8 1185.0C1582.1 1184.7 1586.5 1184.3 1590.8 1184.3C1595.1 1184.3 1599.4 1185.7 1603.8 1186.9C1608.1 1188.1 1612.4 1190.4 1616.7 1192.1C1621.1 1193.8 1625.4 1196.3 1629.7 1197.3C1632.3 1197.9 1634.9 1198.6 1637.5 1198.6C1643.5 1198.6 1649.6 1194.8 1655.6 1193.4C1660.0 1192.4 1664.3 1190.8 1668.6 1190.8C1670.8 1190.8 1672.9 1191.5 1675.1 1192.1C1678.1 1192.9 1681.2 1194.6 1684.2 1196.0C1687.6 1197.6 1691.1 1200.0 1694.6 1201.2C1698.0 1202.3 1701.5 1203.8 1704.9 1203.8C1708.4 1203.8 1711.8 1203.8 1715.3 1203.8C1718.8 1203.8 1722.2 1201.9 1725.7 1201.2C1729.1 1200.4 1732.6 1199.2 1736.1 1199.2C1739.5 1199.2 1743.0 1199.8 1746.4 1200.5C1749.9 1201.2 1753.4 1203.7 1756.8 1205.1C1760.3 1206.5 1763.7 1208.3 1767.2 1208.9C1770.6 1209.6 1774.1 1210.2 1777.6 1210.2C1781.0 1210.2 1784.5 1208.5 1787.9 1207.7C1792.0 1206.7 1796.0 1205.1 1800.0 1205.1C1803.5 1205.1 1806.9 1206.8 1810.4 1207.7C1813.8 1208.5 1817.3 1209.7 1820.8 1210.2C1824.2 1210.8 1827.7 1211.1 1831.1 1211.5C1834.6 1212.0 1838.0 1212.8 1841.5 1212.8C1849.3 1212.8 1857.1 1212.8 1864.9 1212.8C1869.2 1212.8 1873.5 1214.1 1877.8 1214.1C1882.1 1214.1 1886.5 1212.8 1890.8 1212.8C1899.4 1212.8 1908.1 1213.7 1916.7 1214.1C1925.4 1214.6 1934.0 1214.7 1942.7 1215.4C1949.2 1216.0 1955.6 1220.6 1962.1 1220.6C1968.6 1220.6 1975.1 1219.8 1981.6 1219.3C1990.2 1218.6 1998.9 1216.7 2007.5 1216.7C2020.5 1216.7 2033.5 1216.7 2046.4 1216.7C2050.8 1216.7 2055.1 1215.4 2059.4 1215.4C2063.7 1215.4 2068.1 1217.2 2072.4 1218.0C2076.7 1218.9 2081.0 1219.8 2085.3 1220.6C2090.2 1221.5 2095.1 1223.2 2100.0 1223.2C2104.3 1223.2 2108.6 1218.7 2113.0 1218.7C2117.3 1218.7 2121.6 1219.7 2125.9 1220.6C2130.3 1221.6 2134.6 1225.8 2138.9 1225.8C2143.2 1225.8 2147.6 1225.2 2151.9 1224.5C2156.2 1223.8 2160.5 1218.7 2164.9 1218.7C2169.2 1218.7 2173.5 1218.9 2177.8 1219.3C2182.1 1219.7 2186.5 1222.8 2190.8 1224.5C2195.1 1226.2 2199.4 1229.7 2203.8 1229.7C2208.1 1229.7 2212.4 1222.3 2216.7 1221.9C2221.1 1221.5 2225.4 1221.3 2229.7 1221.3C2234.0 1221.3 2238.3 1227.7 2242.7 1229.7C2247.0 1231.7 2251.3 1234.2 2255.6 1234.2C2260.0 1234.2 2264.3 1233.9 2268.6 1233.6C2272.9 1233.3 2277.3 1232.3 2281.6 1232.3C2285.9 1232.3 2290.2 1232.9 2294.6 1232.9C2297.8 1232.9 2301.1 1232.9 2304.3 1232.9"/>
<path class="s" stroke="#ff9738" d="M256.3 1239.2C439.9 1239.2 623.6 1239.2 807.2 1239.2C808.2 1239.2 809.2 1238.8 810.2 1238.8C811.2 1238.7 812.2 1238.7 813.2 1238.6C814.2 1238.6 815.2 1238.5 816.2 1238.5C817.2 1238.4 818.2 1238.4 819.2 1238.3C820.2 1238.2 821.2 1238.2 822.2 1238.1C823.2 1238.0 824.2 1237.9 825.2 1237.8C826.2 1237.6 827.2 1237.5 828.2 1237.4C829.2 1237.2 830.2 1237.1 831.2 1236.9C832.2 1236.7 833.2 1236.5 834.2 1236.3C835.2 1236.0 836.2 1235.8 837.2 1235.5C838.2 1235.2 839.2 1234.9 840.2 1234.5C841.2 1234.1 842.2 1233.7 843.2 1233.2C844.2 1232.8 845.2 1232.2 846.2 1231.6C847.2 1231.0 848.2 1230.4 849.2 1229.6C850.2 1228.8 851.2 1228.0 852.2 1227.0C853.2 1226.1 854.2 1225.0 855.2 1223.8C856.2 1222.6 857.2 1221.2 858.2 1219.7C859.2 1218.2 860.2 1216.5 861.2 1214.5C862.2 1212.6 863.2 1210.4 864.2 1208.0C865.2 1205.6 866.2 1202.8 867.2 1199.8C868.2 1196.7 869.2 1193.3 870.2 1189.5C871.2 1185.7 872.2 1181.4 873.2 1176.6C874.2 1171.9 875.2 1166.5 876.2 1160.6C877.2 1154.6 878.2 1147.8 879.2 1140.5C879.9 1135.4 880.6 1130.0 881.3 1123.8C882.8 1110.6 884.3 1095.5 885.8 1078.2C886.8 1066.7 887.8 1053.4 888.8 1039.1C889.8 1024.8 890.8 1008.9 891.8 991.6C892.8 974.4 893.8 955.3 894.8 934.7C895.8 914.2 896.8 891.6 897.8 867.5C898.8 843.4 899.8 817.2 900.8 789.5C901.8 761.9 902.8 732.1 903.8 701.2C904.8 670.4 905.8 637.3 906.8 604.0C907.8 570.6 908.8 535.9 909.8 500.7C910.6 471.4 911.4 441.7 912.3 410.9C913.0 384.7 913.7 354.4 914.4 330.1C915.0 309.8 915.6 291.5 916.2 274.5C916.8 257.0 917.4 241.7 918.0 225.9C918.7 209.3 919.3 190.0 919.9 177.3C921.0 156.9 922.0 143.8 923.0 128.6C924.0 114.9 924.9 102.0 925.8 90.0L928.6 90.0C929.5 102.0 930.4 114.9 931.4 128.6C932.4 143.8 933.4 156.9 934.5 177.3C935.1 190.0 935.7 209.3 936.4 225.9C937.0 241.7 937.6 257.0 938.2 274.5C938.8 291.5 939.4 309.8 940.0 330.1C940.7 354.4 941.4 384.7 942.1 410.9C943.0 441.7 943.8 471.4 944.6 500.7C945.6 535.9 946.6 570.6 947.6 604.0C948.6 637.3 949.6 670.4 950.6 701.2C951.6 732.1 952.6 761.9 953.6 789.5C954.6 817.2 955.6 843.4 956.6 867.5C957.6 891.6 958.6 914.2 959.6 934.7C960.6 955.3 961.6 974.4 962.6 991.6C963.6 1008.9 964.6 1024.8 965.6 1039.1C966.6 1053.4 967.6 1066.7 968.6 1078.2C970.1 1095.5 971.6 1111.3 973.1 1123.8C976.4 1151.3 979.7 1175.3 983.0 1190.8C984.7 1198.9 986.5 1204.2 988.2 1210.2C989.9 1216.3 991.7 1222.2 993.4 1227.1C995.1 1232.0 996.8 1236.8 998.6 1240.1C1001.2 1245.0 1003.8 1248.2 1006.4 1251.8C1009.8 1256.5 1013.3 1260.9 1016.7 1264.7C1020.2 1268.6 1023.6 1272.8 1027.1 1275.1C1030.6 1277.4 1034.0 1279.8 1037.5 1280.3C1040.1 1280.6 1042.7 1280.9 1045.3 1280.9C1048.7 1280.9 1052.2 1279.2 1055.6 1277.7C1060.0 1275.8 1064.3 1271.0 1068.6 1267.3C1072.9 1263.7 1077.3 1259.5 1081.6 1255.6C1085.9 1251.8 1090.2 1247.6 1094.6 1244.0C1098.9 1240.3 1103.2 1237.1 1107.5 1233.6C1111.8 1230.1 1116.2 1226.2 1120.5 1223.2C1124.8 1220.3 1129.1 1217.8 1133.5 1215.4C1137.8 1213.1 1142.1 1211.1 1146.4 1208.9C1150.8 1206.8 1155.1 1204.4 1159.4 1202.5C1163.7 1200.5 1168.1 1198.4 1172.4 1197.3C1176.7 1196.1 1181.0 1194.7 1185.3 1194.7C1190.2 1194.7 1195.1 1195.1 1200.0 1195.3C1203.5 1195.5 1206.9 1196.0 1210.4 1196.0C1213.4 1196.0 1216.4 1195.4 1219.5 1194.7C1222.5 1194.0 1225.5 1191.3 1228.5 1189.5C1232.0 1187.4 1235.5 1184.8 1238.9 1183.0C1244.1 1180.4 1249.3 1177.9 1254.5 1176.5C1258.8 1175.4 1263.1 1173.9 1267.4 1173.9C1270.9 1173.9 1274.4 1174.2 1277.8 1174.6C1282.1 1175.0 1286.5 1176.5 1290.8 1177.8C1294.2 1178.9 1297.7 1180.8 1301.2 1181.7C1305.5 1182.9 1309.8 1184.3 1314.1 1184.3C1319.3 1184.3 1324.5 1181.8 1329.7 1180.4C1334.0 1179.2 1338.3 1177.2 1342.7 1176.5C1347.0 1175.9 1351.3 1175.2 1355.6 1175.2C1360.0 1175.2 1364.3 1175.2 1368.6 1175.2C1372.9 1175.2 1377.3 1175.9 1381.6 1176.5C1385.9 1177.1 1390.2 1178.1 1394.6 1179.1C1398.9 1180.2 1403.2 1182.0 1407.5 1183.0C1411.8 1184.0 1416.2 1185.6 1420.5 1185.6C1424.0 1185.6 1427.4 1185.6 1430.9 1185.6C1434.3 1185.6 1437.8 1183.8 1441.2 1183.0C1444.7 1182.3 1448.2 1181.1 1451.6 1181.1C1455.1 1181.1 1458.5 1181.3 1462.0 1181.7C1465.5 1182.1 1468.9 1184.1 1472.4 1185.6C1476.7 1187.4 1481.0 1190.8 1485.3 1192.1C1490.2 1193.6 1495.1 1195.3 1500.0 1195.3C1503.5 1195.3 1506.9 1193.3 1510.4 1192.1C1513.8 1190.9 1517.3 1188.9 1520.8 1188.2C1523.8 1187.6 1526.8 1186.9 1529.8 1186.9C1533.3 1186.9 1536.7 1188.3 1540.2 1189.5C1543.7 1190.7 1547.1 1193.9 1550.6 1196.0C1553.6 1197.8 1556.6 1201.2 1559.7 1201.2C1563.1 1201.2 1566.6 1201.2 1570.0 1201.2C1573.5 1201.2 1577.0 1198.1 1580.4 1197.3C1583.9 1196.4 1587.3 1195.3 1590.8 1195.3C1594.2 1195.3 1597.7 1196.0 1601.2 1196.6C1604.6 1197.3 1608.1 1199.3 1611.5 1200.5C1615.0 1201.7 1618.5 1203.8 1621.9 1203.8C1625.4 1203.8 1628.8 1203.8 1632.3 1203.8C1635.8 1203.8 1639.2 1202.5 1642.7 1202.5C1647.0 1202.5 1651.3 1203.3 1655.6 1203.8C1660.0 1204.2 1664.3 1204.8 1668.6 1205.1C1672.9 1205.3 1677.3 1205.3 1681.6 1205.7C1685.9 1206.1 1690.2 1208.0 1694.6 1208.9C1698.9 1209.9 1703.2 1211.5 1707.5 1211.5C1711.8 1211.5 1716.2 1211.5 1720.5 1211.5C1724.0 1211.5 1727.4 1209.3 1730.9 1208.9C1734.3 1208.6 1737.8 1208.3 1741.2 1208.3C1744.7 1208.3 1748.2 1209.4 1751.6 1210.2C1755.1 1211.1 1758.5 1213.5 1762.0 1214.1C1765.5 1214.8 1768.9 1215.4 1772.4 1215.4C1775.8 1215.4 1779.3 1213.7 1782.7 1212.8C1786.2 1212.0 1789.7 1210.7 1793.1 1210.2C1795.4 1209.9 1797.7 1209.6 1800.0 1209.6C1804.3 1209.6 1808.6 1212.9 1813.0 1214.1C1816.4 1215.1 1819.9 1216.7 1823.3 1216.7C1826.8 1216.7 1830.3 1215.0 1833.7 1214.1C1837.2 1213.3 1840.6 1211.5 1844.1 1211.5C1847.6 1211.5 1851.0 1211.5 1854.5 1211.5C1857.9 1211.5 1861.4 1213.7 1864.9 1215.4C1868.3 1217.2 1871.8 1221.8 1875.2 1223.2C1878.3 1224.5 1881.3 1225.8 1884.3 1225.8C1887.3 1225.8 1890.4 1221.1 1893.4 1219.3C1896.8 1217.3 1900.3 1214.1 1903.8 1214.1C1907.2 1214.1 1910.7 1214.1 1914.1 1214.1C1917.6 1214.1 1921.1 1221.2 1924.5 1223.2C1928.0 1225.2 1931.4 1227.8 1934.9 1227.8C1938.3 1227.8 1941.8 1225.8 1945.3 1224.5C1948.7 1223.2 1952.2 1220.0 1955.6 1219.3C1959.1 1218.6 1962.6 1218.0 1966.0 1218.0C1969.5 1218.0 1972.9 1221.5 1976.4 1223.2C1979.9 1224.9 1983.3 1228.4 1986.8 1228.4C1990.2 1228.4 1993.7 1226.1 1997.1 1224.5C2000.6 1222.9 2004.1 1218.0 2007.5 1218.0C2011.0 1218.0 2014.4 1218.0 2017.9 1218.0C2021.4 1218.0 2024.8 1222.7 2028.3 1224.5C2031.7 1226.3 2035.2 1229.1 2038.7 1229.1C2042.1 1229.1 2045.6 1224.8 2049.0 1223.2C2052.5 1221.7 2055.9 1219.3 2059.4 1219.3C2062.9 1219.3 2066.3 1219.9 2069.8 1220.6C2073.2 1221.3 2076.7 1225.9 2080.2 1227.1C2083.6 1228.3 2087.1 1229.7 2090.5 1229.7C2093.7 1229.7 2096.8 1225.8 2100.0 1224.5C2104.3 1222.8 2108.6 1220.6 2113.0 1220.6C2117.3 1220.6 2121.6 1222.6 2125.9 1223.2C2130.3 1223.8 2134.6 1224.5 2138.9 1224.5C2143.2 1224.5 2147.6 1221.9 2151.9 1221.9C2156.2 1221.9 2160.5 1222.6 2164.9 1223.2C2169.2 1223.8 2173.5 1225.6 2177.8 1226.5C2182.1 1227.3 2186.5 1228.4 2190.8 1228.4C2195.1 1228.4 2199.4 1226.4 2203.8 1225.8C2208.1 1225.2 2212.4 1224.5 2216.7 1224.5C2221.1 1224.5 2225.4 1232.3 2229.7 1232.3C2234.0 1232.3 2238.3 1230.9 2242.7 1229.7C2247.0 1228.5 2251.3 1224.5 2255.6 1224.5C2260.0 1224.5 2264.3 1231.0 2268.6 1231.0C2272.9 1231.0 2277.3 1230.1 2281.6 1229.7C2285.9 1229.3 2290.2 1228.4 2294.6 1228.4C2297.8 1228.4 2301.1 1228.4 2304.3 1228.4"/>
<path class="s" stroke="#0b4f7d" d="M256.3 1238.7C402.6 1238.7 549.0 1238.7 695.3 1238.7C696.3 1238.7 697.3 1238.3 698.3 1238.3C699.3 1238.2 700.3 1238.2 701.3 1238.2C702.3 1238.1 703.3 1238.1 704.3 1238.0C705.3 1238.0 706.3 1237.9 707.3 1237.9C708.3 1237.8 709.3 1237.7 710.3 1237.6C711.3 1237.5 712.3 1237.4 713.3 1237.3C714.3 1237.2 715.3 1237.1 716.3 1237.0C717.3 1236.8 718.3 1236.7 719.3 1236.5C720.3 1236.3 721.3 1236.1 722.3 1235.9C723.3 1235.7 724.3 1235.4 725.3 1235.1C726.3 1234.9 727.3 1234.5 728.3 1234.2C729.3 1233.8 730.3 1233.4 731.3 1233.0C732.3 1232.5 733.3 1232.0 734.3 1231.4C735.3 1230.9 736.3 1230.2 737.3 1229.5C738.3 1228.8 739.3 1227.9 740.3 1227.0C741.3 1226.1 742.3 1225.1 743.3 1223.9C744.3 1222.7 745.3 1221.4 746.3 1219.9C747.3 1218.5 748.3 1216.8 749.3 1214.9C750.3 1213.1 751.3 1210.9 752.3 1208.6C753.3 1206.2 754.3 1203.6 755.3 1200.6C756.3 1197.6 757.3 1194.3 758.3 1190.6C759.3 1186.8 760.3 1182.6 761.3 1177.9C762.3 1173.2 763.3 1167.9 764.3 1162.1C765.3 1156.2 766.3 1149.6 767.3 1142.3C768.1 1136.7 768.8 1130.6 769.6 1123.8C771.1 1111.0 772.5 1096.4 774.0 1079.8C775.0 1068.3 776.0 1055.0 777.0 1040.8C778.0 1026.5 779.0 1010.6 780.0 993.4C781.0 976.2 782.0 957.1 783.0 936.5C784.0 916.0 785.0 893.4 786.0 869.3C787.0 845.2 788.0 818.8 789.0 791.2C790.0 763.5 791.0 733.5 792.0 702.5C793.0 671.6 794.0 638.4 795.0 604.9C796.0 571.3 797.0 536.5 798.0 501.1C798.8 471.7 799.6 441.9 800.5 410.9C801.2 384.7 801.9 354.4 802.6 330.1C803.2 309.8 803.8 291.5 804.3 274.5C804.9 257.0 805.6 241.7 806.2 225.9C806.8 209.3 807.4 190.0 808.1 177.3C809.1 156.9 810.1 143.8 811.2 128.6C812.1 114.9 813.0 102.0 813.9 90.0L816.7 90.0C817.6 102.0 818.5 114.9 819.4 128.6C820.5 143.8 821.5 156.9 822.5 177.3C823.2 190.0 823.8 209.3 824.4 225.9C825.0 241.7 825.7 257.0 826.3 274.5C826.8 291.5 827.4 309.8 828.0 330.1C828.7 354.4 829.4 384.7 830.1 410.9C831.0 441.9 831.8 471.7 832.6 501.1C833.6 536.5 834.6 571.3 835.6 604.9C836.6 638.4 837.6 671.6 838.6 702.5C839.6 733.5 840.6 763.5 841.6 791.2C842.6 818.8 843.6 845.2 844.6 869.3C845.6 893.4 846.6 916.0 847.6 936.5C848.6 957.1 849.6 976.2 850.6 993.4C851.6 1010.6 852.6 1026.5 853.6 1040.8C854.6 1055.0 855.6 1068.3 856.6 1079.8C858.1 1096.4 859.5 1111.4 861.0 1123.8C863.5 1145.2 866.0 1163.4 868.5 1177.8C869.8 1185.3 871.1 1191.3 872.4 1197.3C873.7 1203.3 875.0 1208.7 876.3 1214.1C877.6 1219.5 878.9 1225.0 880.2 1229.7C881.5 1234.4 882.7 1239.2 884.0 1242.7C885.8 1247.4 887.5 1251.6 889.2 1254.3C891.4 1257.8 893.6 1260.4 895.7 1262.1C897.1 1263.3 898.6 1263.9 900.0 1264.7C904.3 1267.1 908.6 1270.0 913.0 1271.2C917.3 1272.4 921.6 1273.8 925.9 1273.8C930.3 1273.8 934.6 1271.6 938.9 1269.9C943.2 1268.2 947.6 1264.9 951.9 1262.1C956.2 1259.3 960.5 1256.1 964.9 1253.0C969.2 1250.0 973.5 1247.0 977.8 1244.0C982.1 1240.9 986.5 1237.9 990.8 1234.9C995.1 1231.9 999.4 1228.8 1003.8 1225.8C1008.1 1222.8 1012.4 1219.3 1016.7 1216.7C1021.1 1214.2 1025.4 1211.9 1029.7 1210.2C1034.0 1208.6 1038.3 1206.7 1042.7 1206.4C1047.0 1206.0 1051.3 1205.7 1055.6 1205.7C1060.0 1205.7 1064.3 1206.4 1068.6 1206.4C1072.9 1206.4 1077.3 1206.4 1081.6 1206.4C1085.9 1206.4 1090.2 1204.1 1094.6 1202.5C1098.9 1200.8 1103.2 1198.3 1107.5 1196.0C1111.8 1193.6 1116.2 1190.1 1120.5 1188.2C1124.8 1186.3 1129.1 1184.0 1133.5 1183.7C1137.8 1183.3 1142.1 1183.0 1146.4 1183.0C1150.8 1183.0 1155.1 1184.7 1159.4 1185.6C1163.7 1186.5 1168.1 1187.6 1172.4 1188.2C1176.7 1188.8 1181.0 1189.5 1185.3 1189.5C1190.2 1189.5 1195.1 1187.8 1200.0 1186.9C1204.3 1186.1 1208.6 1185.3 1213.0 1184.3C1217.3 1183.3 1221.6 1181.5 1225.9 1180.4C1230.3 1179.4 1234.6 1177.8 1238.9 1177.8C1242.4 1177.8 1245.8 1177.8 1249.3 1177.8C1252.7 1177.8 1256.2 1179.7 1259.7 1181.1C1263.6 1182.6 1267.4 1185.8 1271.3 1186.9C1275.7 1188.1 1280.0 1189.5 1284.3 1189.5C1288.6 1189.5 1293.0 1187.3 1297.3 1185.6C1300.7 1184.2 1304.2 1180.5 1307.7 1179.8C1310.7 1179.1 1313.7 1178.5 1316.7 1178.5C1320.2 1178.5 1323.6 1180.3 1327.1 1181.7C1330.6 1183.2 1334.0 1186.4 1337.5 1188.2C1341.4 1190.2 1345.3 1193.4 1349.2 1193.4C1352.6 1193.4 1356.1 1191.8 1359.5 1190.8C1363.4 1189.6 1367.3 1187.0 1371.2 1186.3C1374.7 1185.6 1378.1 1185.0 1381.6 1185.0C1385.0 1185.0 1388.5 1186.0 1392.0 1186.9C1395.4 1187.8 1398.9 1190.7 1402.3 1192.1C1406.2 1193.7 1410.1 1196.0 1414.0 1196.0C1418.3 1196.0 1422.7 1196.0 1427.0 1196.0C1431.3 1196.0 1435.6 1195.3 1439.9 1195.3C1444.3 1195.3 1448.6 1196.0 1452.9 1196.0C1457.2 1196.0 1461.6 1196.0 1465.9 1196.0C1470.2 1196.0 1474.5 1196.7 1478.9 1197.3C1483.2 1197.9 1487.5 1199.1 1491.8 1199.9C1494.6 1200.3 1497.3 1200.8 1500.0 1201.2C1503.5 1201.7 1506.9 1202.5 1510.4 1202.5C1513.8 1202.5 1517.3 1200.2 1520.8 1199.9C1524.2 1199.5 1527.7 1199.2 1531.1 1199.2C1534.6 1199.2 1538.0 1201.3 1541.5 1202.5C1545.0 1203.6 1548.4 1205.7 1551.9 1206.4C1555.3 1207.0 1558.8 1207.7 1562.3 1207.7C1565.7 1207.7 1569.2 1204.8 1572.6 1203.8C1576.1 1202.7 1579.6 1201.2 1583.0 1201.2C1586.5 1201.2 1589.9 1201.8 1593.4 1202.5C1596.8 1203.2 1600.3 1206.2 1603.8 1207.7C1607.2 1209.1 1610.7 1211.5 1614.1 1211.5C1617.6 1211.5 1621.1 1210.0 1624.5 1208.9C1628.0 1207.9 1631.4 1205.1 1634.9 1205.1C1638.3 1205.1 1641.8 1205.1 1645.3 1205.1C1648.7 1205.1 1652.2 1208.3 1655.6 1210.2C1659.1 1212.2 1662.6 1216.7 1666.0 1216.7C1669.5 1216.7 1672.9 1214.1 1676.4 1212.8C1679.9 1211.5 1683.3 1208.9 1686.8 1208.9C1690.2 1208.9 1693.7 1208.9 1697.1 1208.9C1700.6 1208.9 1704.1 1212.4 1707.5 1214.1C1711.0 1215.9 1714.4 1219.3 1717.9 1219.3C1721.4 1219.3 1724.8 1218.7 1728.3 1218.0C1731.7 1217.3 1735.2 1214.0 1738.7 1212.8C1742.1 1211.7 1745.6 1210.2 1749.0 1210.2C1752.5 1210.2 1755.9 1211.7 1759.4 1212.8C1762.9 1214.0 1766.3 1217.3 1769.8 1218.0C1773.2 1218.7 1776.7 1219.3 1780.2 1219.3C1783.6 1219.3 1787.1 1217.3 1790.5 1216.7C1793.7 1216.2 1796.8 1215.4 1800.0 1215.4C1803.5 1215.4 1806.9 1216.2 1810.4 1216.7C1813.8 1217.3 1817.3 1218.9 1820.8 1219.3C1826.8 1220.0 1832.9 1220.2 1838.9 1220.6C1845.4 1221.1 1851.9 1221.5 1858.4 1221.9C1864.9 1222.4 1871.3 1222.8 1877.8 1223.2C1884.3 1223.6 1890.8 1224.5 1897.3 1224.5C1903.8 1224.5 1910.2 1224.5 1916.7 1224.5C1921.1 1224.5 1925.4 1221.9 1929.7 1221.9C1934.0 1221.9 1938.3 1221.9 1942.7 1221.9C1947.0 1221.9 1951.3 1223.9 1955.6 1224.5C1959.1 1225.0 1962.6 1225.8 1966.0 1225.8C1969.5 1225.8 1972.9 1223.8 1976.4 1223.2C1979.9 1222.6 1983.3 1221.9 1986.8 1221.9C1990.2 1221.9 1993.7 1222.6 1997.1 1223.2C2000.6 1223.8 2004.1 1225.8 2007.5 1225.8C2011.0 1225.8 2014.4 1225.5 2017.9 1225.2C2021.4 1224.8 2024.8 1222.6 2028.3 1222.6C2031.7 1222.6 2035.2 1222.9 2038.7 1223.2C2042.1 1223.5 2045.6 1225.2 2049.0 1225.2C2052.5 1225.2 2055.9 1224.8 2059.4 1224.5C2063.7 1224.2 2068.1 1223.2 2072.4 1223.2C2076.7 1223.2 2081.0 1224.5 2085.3 1225.2C2090.2 1226.0 2095.1 1227.8 2100.0 1227.8C2103.5 1227.8 2106.9 1225.8 2110.4 1225.8C2113.8 1225.8 2117.3 1226.5 2120.8 1227.1C2124.2 1227.7 2127.7 1229.7 2131.1 1229.7C2134.6 1229.7 2138.0 1229.4 2141.5 1229.1C2145.0 1228.7 2148.4 1226.8 2151.9 1226.5C2155.3 1226.1 2158.8 1225.8 2162.3 1225.8C2165.7 1225.8 2169.2 1227.8 2172.6 1228.4C2176.1 1229.0 2179.6 1229.7 2183.0 1229.7C2186.5 1229.7 2189.9 1228.4 2193.4 1227.8C2196.0 1227.3 2198.6 1226.5 2201.2 1226.5C2204.6 1226.5 2208.1 1227.2 2211.5 1227.8C2215.0 1228.3 2218.5 1230.4 2221.9 1230.4C2225.4 1230.4 2228.8 1230.0 2232.3 1229.7C2235.8 1229.4 2239.2 1228.1 2242.7 1227.8C2246.1 1227.4 2249.6 1227.3 2253.0 1227.1C2256.5 1226.9 2260.0 1226.8 2263.4 1226.5C2266.9 1226.1 2270.3 1224.0 2273.8 1223.2C2277.3 1222.4 2280.7 1221.3 2284.2 1221.3C2287.6 1221.3 2291.1 1221.3 2294.6 1221.3C2297.8 1221.3 2301.1 1221.3 2304.3 1221.3"/>
<path class="s" stroke="#8e2323" d="M256.3 1238.0C365.5 1238.0 474.6 1238.0 583.8 1238.0C584.8 1238.0 585.8 1237.7 586.8 1237.6C587.8 1237.6 588.8 1237.5 589.8 1237.5C590.8 1237.5 591.8 1237.4 592.8 1237.4C593.8 1237.3 594.8 1237.3 595.8 1237.2C596.8 1237.1 597.8 1237.1 598.8 1237.0C599.8 1236.9 600.8 1236.8 601.8 1236.7C602.8 1236.6 603.8 1236.5 604.8 1236.4C605.8 1236.2 606.8 1236.1 607.8 1235.9C608.8 1235.7 609.8 1235.6 610.8 1235.3C611.8 1235.1 612.8 1234.9 613.8 1234.6C614.8 1234.4 615.8 1234.1 616.8 1233.7C617.8 1233.4 618.8 1233.0 619.8 1232.6C620.8 1232.1 621.8 1231.6 622.8 1231.1C623.8 1230.5 624.8 1229.9 625.8 1229.2C626.8 1228.5 627.8 1227.7 628.8 1226.8C629.8 1226.0 630.8 1225.0 631.8 1223.8C632.8 1222.7 633.8 1221.4 634.8 1220.0C635.8 1218.6 636.8 1217.0 637.8 1215.2C638.8 1213.4 639.8 1211.4 640.8 1209.1C641.8 1206.8 642.8 1204.2 643.8 1201.4C644.8 1198.5 645.8 1195.3 646.8 1191.6C647.8 1188.0 648.8 1183.8 649.8 1179.2C650.8 1174.6 651.8 1169.4 652.8 1163.6C653.8 1157.8 654.8 1151.2 655.8 1144.1C656.6 1138.0 657.5 1131.3 658.3 1123.8C659.7 1111.5 661.1 1097.3 662.5 1081.3C663.5 1069.9 664.5 1056.7 665.5 1042.5C666.5 1028.2 667.5 1012.4 668.5 995.2C669.5 978.0 670.5 958.9 671.5 938.3C672.5 917.8 673.5 895.2 674.5 871.0C675.5 846.9 676.5 820.5 677.5 792.8C678.5 765.0 679.5 735.0 680.5 703.9C681.5 672.8 682.5 639.5 683.5 605.8C684.5 572.1 685.5 537.1 686.5 501.6C687.4 472.0 688.2 442.0 689.0 410.9C689.7 384.7 690.4 354.4 691.1 330.1C691.7 309.8 692.3 291.5 692.9 274.5C693.5 257.0 694.1 241.7 694.7 225.9C695.3 209.3 696.0 190.0 696.6 177.3C697.6 156.9 698.7 143.8 699.7 128.6C700.6 114.9 701.5 102.0 702.4 90.0L705.2 90.0C706.1 102.0 707.0 114.9 707.9 128.6C708.9 143.8 710.0 156.9 711.0 177.3C711.6 190.0 712.3 209.3 712.9 225.9C713.5 241.7 714.1 257.0 714.7 274.5C715.3 291.5 715.9 309.8 716.5 330.1C717.2 354.4 717.9 384.7 718.6 410.9C719.4 442.0 720.2 472.0 721.1 501.6C722.1 537.1 723.1 572.1 724.1 605.8C725.1 639.5 726.1 672.8 727.1 703.9C728.1 735.0 729.1 765.0 730.1 792.8C731.1 820.5 732.1 846.9 733.1 871.0C734.1 895.2 735.1 917.8 736.1 938.3C737.1 958.9 738.1 978.0 739.1 995.2C740.1 1012.4 741.1 1028.2 742.1 1042.5C743.1 1056.7 744.1 1069.9 745.1 1081.3C746.5 1097.3 747.9 1109.4 749.3 1123.8C751.0 1141.4 752.7 1166.3 754.3 1177.8C756.1 1189.6 757.8 1196.3 759.5 1203.8C761.3 1211.2 763.0 1216.5 764.7 1223.2C766.0 1228.2 767.3 1234.5 768.6 1238.8C770.3 1244.5 772.1 1249.6 773.8 1253.0C776.4 1258.2 779.0 1262.1 781.6 1264.7C785.0 1268.2 788.5 1271.2 792.0 1272.5C796.3 1274.2 800.6 1275.7 804.9 1275.7C810.1 1275.7 815.3 1274.4 820.5 1273.2C824.8 1272.1 829.1 1269.4 833.5 1267.3C837.8 1265.3 842.1 1263.0 846.4 1260.8C850.8 1258.7 855.1 1256.7 859.4 1254.3C863.7 1252.0 868.1 1249.5 872.4 1246.6C876.7 1243.6 881.0 1239.8 885.3 1236.2C890.2 1232.1 895.1 1225.9 900.0 1223.2C904.3 1220.9 908.6 1218.7 913.0 1218.0C917.3 1217.3 921.6 1216.7 925.9 1216.7C930.3 1216.7 934.6 1218.0 938.9 1218.0C943.2 1218.0 947.6 1217.1 951.9 1216.1C956.2 1215.1 960.5 1212.5 964.9 1210.2C969.2 1208.0 973.5 1205.0 977.8 1202.5C981.3 1200.5 984.7 1197.2 988.2 1196.6C993.4 1195.8 998.6 1195.7 1003.8 1195.3C1010.2 1194.8 1016.7 1194.0 1023.2 1194.0C1029.7 1194.0 1036.2 1194.3 1042.7 1194.7C1047.0 1194.9 1051.3 1196.5 1055.6 1197.3C1060.0 1198.0 1064.3 1199.2 1068.6 1199.2C1072.9 1199.2 1077.3 1194.6 1081.6 1192.1C1085.9 1189.6 1090.2 1185.8 1094.6 1184.3C1098.9 1182.8 1103.2 1181.1 1107.5 1181.1C1111.0 1181.1 1114.4 1182.9 1117.9 1184.3C1121.4 1185.7 1124.8 1189.4 1128.3 1190.8C1131.3 1192.0 1134.3 1193.4 1137.4 1193.4C1140.4 1193.4 1143.4 1191.9 1146.4 1190.8C1150.8 1189.2 1155.1 1185.5 1159.4 1184.3C1163.7 1183.1 1168.1 1181.7 1172.4 1181.7C1176.7 1181.7 1181.0 1183.2 1185.3 1184.3C1190.2 1185.5 1195.1 1189.5 1200.0 1189.5C1204.3 1189.5 1208.6 1188.2 1213.0 1188.2C1217.3 1188.2 1221.6 1188.2 1225.9 1188.2C1230.3 1188.2 1234.6 1186.9 1238.9 1186.9C1243.2 1186.9 1247.6 1187.6 1251.9 1188.2C1256.2 1188.8 1260.5 1189.8 1264.9 1190.8C1269.2 1191.8 1273.5 1193.4 1277.8 1194.7C1282.1 1196.0 1286.5 1198.6 1290.8 1198.6C1295.1 1198.6 1299.4 1194.9 1303.8 1193.4C1308.1 1191.9 1312.4 1189.5 1316.7 1189.5C1319.3 1189.5 1321.9 1190.1 1324.5 1190.8C1328.4 1191.8 1332.3 1196.7 1336.2 1198.6C1339.6 1200.2 1343.1 1202.5 1346.6 1202.5C1350.5 1202.5 1354.3 1199.1 1358.2 1197.3C1361.7 1195.6 1365.2 1192.1 1368.6 1192.1C1371.6 1192.1 1374.7 1192.1 1377.7 1192.1C1381.2 1192.1 1384.6 1196.5 1388.1 1198.6C1391.1 1200.4 1394.1 1203.8 1397.1 1203.8C1400.6 1203.8 1404.1 1203.8 1407.5 1203.8C1411.0 1203.8 1414.4 1199.8 1417.9 1198.6C1420.9 1197.5 1424.0 1196.0 1427.0 1196.0C1430.0 1196.0 1433.0 1197.4 1436.1 1198.6C1439.5 1199.9 1443.0 1203.8 1446.4 1205.1C1449.9 1206.3 1453.4 1207.7 1456.8 1207.7C1460.3 1207.7 1463.7 1206.0 1467.2 1205.1C1471.1 1203.9 1475.0 1201.2 1478.9 1201.2C1481.9 1201.2 1484.9 1201.9 1487.9 1202.5C1492.0 1203.2 1496.0 1205.2 1500.0 1206.4C1503.5 1207.3 1506.9 1208.9 1510.4 1208.9C1513.8 1208.9 1517.3 1205.7 1520.8 1205.1C1524.2 1204.4 1527.7 1203.8 1531.1 1203.8C1534.6 1203.8 1538.0 1206.6 1541.5 1207.7C1545.0 1208.7 1548.4 1210.2 1551.9 1210.2C1556.2 1210.2 1560.5 1209.4 1564.9 1208.9C1569.2 1208.5 1573.5 1207.7 1577.8 1207.7C1581.3 1207.7 1584.7 1209.2 1588.2 1210.2C1591.7 1211.3 1595.1 1213.8 1598.6 1214.1C1602.5 1214.5 1606.4 1214.8 1610.2 1214.8C1613.7 1214.8 1617.2 1214.0 1620.6 1213.5C1623.6 1213.1 1626.7 1212.2 1629.7 1212.2C1633.2 1212.2 1636.6 1214.5 1640.1 1215.4C1643.5 1216.4 1647.0 1218.0 1650.5 1218.0C1654.3 1218.0 1658.2 1217.7 1662.1 1217.4C1665.6 1217.1 1669.0 1215.4 1672.5 1215.4C1676.4 1215.4 1680.3 1216.1 1684.2 1216.7C1687.6 1217.3 1691.1 1219.3 1694.6 1219.3C1698.0 1219.3 1701.5 1219.0 1704.9 1218.7C1708.4 1218.4 1711.8 1217.4 1715.3 1217.4C1718.8 1217.4 1722.2 1218.2 1725.7 1218.7C1729.1 1219.2 1732.6 1220.6 1736.1 1220.6C1739.5 1220.6 1743.0 1220.3 1746.4 1220.0C1749.9 1219.7 1753.4 1218.7 1756.8 1218.7C1760.3 1218.7 1763.7 1219.5 1767.2 1220.0C1770.6 1220.4 1774.1 1221.3 1777.6 1221.3C1781.0 1221.3 1784.5 1221.3 1787.9 1221.3C1792.0 1221.3 1796.0 1219.3 1800.0 1219.3C1803.5 1219.3 1806.9 1221.4 1810.4 1221.9C1814.3 1222.5 1818.2 1223.2 1822.0 1223.2C1825.5 1223.2 1829.0 1221.2 1832.4 1220.6C1835.9 1220.0 1839.3 1219.3 1842.8 1219.3C1846.3 1219.3 1849.7 1221.2 1853.2 1221.9C1856.6 1222.7 1860.1 1223.9 1863.6 1223.9C1867.0 1223.9 1870.5 1222.6 1873.9 1221.9C1877.4 1221.3 1880.8 1220.0 1884.3 1220.0C1887.8 1220.0 1891.2 1221.4 1894.7 1221.9C1898.1 1222.4 1901.6 1223.2 1905.1 1223.2C1908.9 1223.2 1912.8 1221.7 1916.7 1220.6C1920.2 1219.7 1923.6 1216.7 1927.1 1216.7C1930.6 1216.7 1934.0 1216.7 1937.5 1216.7C1940.9 1216.7 1944.4 1216.1 1947.9 1215.4C1951.3 1214.8 1954.8 1212.4 1958.2 1211.5C1961.7 1210.7 1965.2 1209.9 1968.6 1209.6C1972.1 1209.3 1975.5 1209.3 1979.0 1208.9C1982.4 1208.6 1985.9 1206.5 1989.4 1205.1C1992.8 1203.6 1996.3 1200.8 1999.7 1199.9C2003.2 1198.9 2006.7 1198.2 2010.1 1197.9C2013.6 1197.6 2017.0 1197.6 2020.5 1197.3C2024.0 1196.9 2027.4 1194.7 2030.9 1193.4C2034.3 1192.1 2037.8 1189.9 2041.2 1189.5C2044.7 1189.1 2048.2 1189.1 2051.6 1188.8C2055.1 1188.6 2058.5 1188.5 2062.0 1188.2C2065.5 1187.9 2068.9 1186.5 2072.4 1186.3C2076.7 1185.9 2081.0 1185.6 2085.3 1185.6C2090.2 1185.6 2095.1 1186.3 2100.0 1186.3C2102.6 1186.3 2105.2 1185.1 2107.8 1184.3C2110.8 1183.4 2113.8 1180.9 2116.9 1180.4C2122.0 1179.6 2127.2 1179.8 2132.4 1179.1C2135.9 1178.7 2139.3 1176.9 2142.8 1176.5C2146.3 1176.2 2149.7 1175.9 2153.2 1175.9C2156.6 1175.9 2160.1 1176.9 2163.6 1177.2C2167.0 1177.5 2170.5 1177.8 2173.9 1177.8C2177.0 1177.8 2180.0 1176.5 2183.0 1175.9C2186.0 1175.2 2189.1 1173.9 2192.1 1173.9C2195.1 1173.9 2198.1 1174.7 2201.2 1175.2C2204.2 1175.7 2207.2 1177.2 2210.2 1177.2C2213.3 1177.2 2216.3 1176.4 2219.3 1175.9C2222.4 1175.4 2225.4 1173.9 2228.4 1173.9C2231.4 1173.9 2234.5 1174.8 2237.5 1175.2C2240.5 1175.7 2243.5 1176.5 2246.6 1176.5C2249.2 1176.5 2251.8 1175.7 2254.3 1175.2C2256.9 1174.7 2259.5 1173.3 2262.1 1173.3C2265.2 1173.3 2268.2 1174.7 2271.2 1175.2C2274.2 1175.7 2277.3 1176.5 2280.3 1176.5C2282.9 1176.5 2285.5 1175.5 2288.1 1175.2C2291.1 1174.9 2294.1 1174.6 2297.1 1174.6C2299.5 1174.6 2301.9 1174.6 2304.3 1174.6"/>
<path class="s" stroke="#5e8226" d="M256.3 1238.7C328.1 1238.7 399.9 1238.7 471.7 1238.7C472.7 1238.7 473.7 1238.4 474.7 1238.3C475.7 1238.3 476.7 1238.3 477.7 1238.2C478.7 1238.2 479.7 1238.1 480.7 1238.1C481.7 1238.0 482.7 1238.0 483.7 1237.9C484.7 1237.9 485.7 1237.8 486.7 1237.7C487.7 1237.6 488.7 1237.5 489.7 1237.4C490.7 1237.3 491.7 1237.2 492.7 1237.1C493.7 1237.0 494.7 1236.8 495.7 1236.7C496.7 1236.5 497.7 1236.3 498.7 1236.1C499.7 1235.9 500.7 1235.7 501.7 1235.4C502.7 1235.1 503.7 1234.8 504.7 1234.5C505.7 1234.2 506.7 1233.8 507.7 1233.4C508.7 1232.9 509.7 1232.4 510.7 1231.9C511.7 1231.4 512.7 1230.7 513.7 1230.0C514.7 1229.4 515.7 1228.6 516.7 1227.7C517.7 1226.8 518.7 1225.8 519.7 1224.7C520.7 1223.6 521.7 1222.3 522.7 1220.9C523.7 1219.5 524.7 1217.9 525.7 1216.1C526.7 1214.3 527.7 1212.3 528.7 1210.1C529.7 1207.8 530.7 1205.2 531.7 1202.4C532.7 1199.5 533.7 1196.3 534.7 1192.7C535.7 1189.0 536.7 1185.0 537.7 1180.4C538.7 1175.9 539.7 1170.7 540.7 1165.0C541.7 1159.3 542.7 1152.9 543.7 1145.8C544.6 1139.2 545.5 1132.0 546.5 1123.8C547.8 1111.9 549.2 1098.3 550.5 1082.9C551.5 1071.5 552.5 1058.3 553.5 1044.1C554.5 1029.9 555.5 1014.1 556.5 996.9C557.5 979.8 558.5 960.7 559.5 940.1C560.5 919.6 561.5 896.9 562.5 872.8C563.5 848.6 564.5 822.2 565.5 794.4C566.5 766.6 567.5 736.4 568.5 705.2C569.5 674.0 570.5 640.6 571.5 606.8C572.5 572.9 573.5 537.7 574.5 502.0C575.3 472.3 576.2 442.2 577.0 410.9C577.7 384.7 578.4 354.4 579.1 330.1C579.7 309.8 580.3 291.5 580.9 274.5C581.5 257.0 582.1 241.7 582.7 225.9C583.3 209.3 583.9 190.0 584.6 177.3C585.6 156.9 586.6 143.8 587.6 128.6C588.5 114.9 589.4 102.0 590.4 90.0L593.1 90.0C594.0 102.0 594.9 114.9 595.8 128.6C596.8 143.8 597.8 156.9 598.9 177.3C599.5 190.0 600.1 209.3 600.8 225.9C601.4 241.7 602.0 257.0 602.6 274.5C603.1 291.5 603.7 309.8 604.3 330.1C605.0 354.4 605.7 384.7 606.4 410.9C607.2 442.2 608.1 472.3 608.9 502.0C609.9 537.7 610.9 572.9 611.9 606.8C612.9 640.6 613.9 674.0 614.9 705.2C615.9 736.4 616.9 766.6 617.9 794.4C618.9 822.2 619.9 848.6 620.9 872.8C621.9 896.9 622.9 919.6 623.9 940.1C624.9 960.7 625.9 979.8 626.9 996.9C627.9 1014.1 628.9 1029.9 629.9 1044.1C630.9 1058.3 631.9 1071.5 632.9 1082.9C634.2 1098.3 635.6 1109.2 636.9 1123.8C638.5 1140.4 640.0 1164.9 641.5 1177.8C642.8 1188.8 644.1 1197.5 645.4 1203.8C647.1 1212.2 648.9 1216.5 650.6 1223.2C651.9 1228.2 653.2 1234.5 654.5 1238.8C656.2 1244.5 657.9 1249.9 659.7 1253.0C662.3 1257.8 664.9 1261.2 667.4 1263.4C670.9 1266.4 674.4 1268.9 677.8 1269.9C681.3 1270.9 684.7 1271.9 688.2 1271.9C693.4 1271.9 698.6 1270.8 703.8 1269.9C708.1 1269.2 712.4 1268.1 716.7 1266.7C721.1 1265.3 725.4 1263.1 729.7 1260.8C734.0 1258.6 738.3 1256.2 742.7 1253.0C747.0 1249.9 751.3 1245.2 755.6 1241.4C759.1 1238.3 762.6 1234.7 766.0 1232.3C769.0 1230.2 772.1 1228.0 775.1 1227.1C778.6 1226.1 782.0 1225.2 785.5 1225.2C790.7 1225.2 795.8 1226.5 801.0 1226.5C805.4 1226.5 809.7 1226.2 814.0 1225.8C818.3 1225.4 822.7 1222.9 827.0 1221.3C833.5 1218.8 839.9 1215.3 846.4 1212.8C852.9 1210.4 859.4 1208.9 865.9 1206.4C870.2 1204.7 874.5 1202.1 878.9 1200.5C883.2 1199.0 887.5 1196.6 891.8 1196.6C894.6 1196.6 897.3 1196.9 900.0 1197.3C904.3 1197.8 908.6 1203.8 913.0 1205.1C917.3 1206.4 921.6 1207.7 925.9 1207.7C930.3 1207.7 934.6 1204.9 938.9 1202.5C943.2 1200.1 947.6 1192.4 951.9 1190.8C955.3 1189.5 958.8 1188.2 962.3 1188.2C966.6 1188.2 970.9 1190.2 975.2 1191.4C979.6 1192.7 983.9 1196.0 988.2 1196.0C993.4 1196.0 998.6 1194.7 1003.8 1194.0C1010.2 1193.2 1016.7 1192.2 1023.2 1191.4C1029.7 1190.7 1036.2 1190.0 1042.7 1189.5C1046.1 1189.2 1049.6 1188.8 1053.0 1188.8C1057.4 1188.8 1061.7 1190.8 1066.0 1192.1C1070.3 1193.3 1074.7 1196.6 1079.0 1196.6C1083.3 1196.6 1087.6 1194.9 1092.0 1193.4C1096.3 1191.9 1100.6 1185.6 1104.9 1185.6C1108.0 1185.6 1111.0 1185.6 1114.0 1185.6C1118.3 1185.6 1122.7 1190.9 1127.0 1193.4C1130.4 1195.4 1133.9 1199.2 1137.4 1199.2C1140.4 1199.2 1143.4 1197.7 1146.4 1196.6C1150.8 1195.0 1155.1 1189.5 1159.4 1189.5C1162.9 1189.5 1166.3 1189.5 1169.8 1189.5C1174.1 1189.5 1178.4 1195.3 1182.7 1197.3C1186.2 1198.9 1189.7 1201.2 1193.1 1201.2C1195.4 1201.2 1197.7 1201.2 1200.0 1201.2C1202.6 1201.2 1205.2 1194.6 1207.8 1193.4C1210.8 1192.0 1213.8 1190.8 1216.9 1190.8C1219.9 1190.8 1222.9 1193.1 1225.9 1194.7C1229.4 1196.4 1232.9 1200.4 1236.3 1201.2C1239.3 1201.9 1242.4 1202.5 1245.4 1202.5C1248.9 1202.5 1252.3 1198.7 1255.8 1197.3C1259.7 1195.7 1263.6 1193.4 1267.4 1193.4C1270.9 1193.4 1274.4 1195.7 1277.8 1197.3C1281.3 1198.8 1284.7 1202.7 1288.2 1203.1C1291.2 1203.5 1294.2 1203.8 1297.3 1203.8C1300.7 1203.8 1304.2 1201.0 1307.7 1199.9C1310.7 1198.9 1313.7 1197.3 1316.7 1197.3C1320.2 1197.3 1323.6 1199.8 1327.1 1201.2C1330.6 1202.6 1334.0 1205.4 1337.5 1205.7C1341.4 1206.1 1345.3 1206.4 1349.2 1206.4C1352.6 1206.4 1356.1 1203.8 1359.5 1203.8C1362.6 1203.8 1365.6 1204.1 1368.6 1204.4C1372.9 1204.9 1377.3 1207.7 1381.6 1207.7C1385.9 1207.7 1390.2 1207.7 1394.6 1207.7C1398.9 1207.7 1403.2 1207.0 1407.5 1207.0C1411.8 1207.0 1416.2 1208.4 1420.5 1208.9C1424.8 1209.5 1429.1 1210.2 1433.5 1210.2C1437.8 1210.2 1442.1 1209.6 1446.4 1209.6C1450.8 1209.6 1455.1 1210.6 1459.4 1210.9C1463.7 1211.2 1468.1 1211.5 1472.4 1211.5C1476.7 1211.5 1481.0 1210.2 1485.3 1210.2C1490.2 1210.2 1495.1 1210.9 1500.0 1211.5C1503.5 1212.0 1506.9 1214.1 1510.4 1214.1C1514.3 1214.1 1518.2 1212.2 1522.0 1211.5C1525.5 1211.0 1529.0 1210.2 1532.4 1210.2C1535.9 1210.2 1539.3 1212.2 1542.8 1212.8C1545.8 1213.4 1548.9 1214.1 1551.9 1214.1C1554.9 1214.1 1557.9 1212.4 1561.0 1211.5C1564.4 1210.6 1567.9 1208.9 1571.3 1208.9C1575.2 1208.9 1579.1 1209.8 1583.0 1210.2C1586.5 1210.7 1589.9 1211.5 1593.4 1211.5C1596.8 1211.5 1600.3 1209.7 1603.8 1208.9C1608.1 1208.0 1612.4 1206.9 1616.7 1206.4C1621.1 1205.8 1625.4 1205.8 1629.7 1205.1C1633.2 1204.5 1636.6 1201.4 1640.1 1199.9C1643.5 1198.4 1647.0 1196.0 1650.5 1196.0C1654.3 1196.0 1658.2 1196.0 1662.1 1196.0C1665.6 1196.0 1669.0 1194.4 1672.5 1193.4C1676.4 1192.3 1680.3 1189.5 1684.2 1189.5C1687.6 1189.5 1691.1 1189.5 1694.6 1189.5C1698.0 1189.5 1701.5 1189.5 1704.9 1189.5C1708.4 1189.5 1711.8 1187.6 1715.3 1186.9C1718.8 1186.2 1722.2 1185.0 1725.7 1185.0C1729.1 1185.0 1732.6 1186.3 1736.1 1186.3C1739.5 1186.3 1743.0 1185.1 1746.4 1184.3C1749.9 1183.5 1753.4 1181.1 1756.8 1181.1C1760.3 1181.1 1763.7 1181.1 1767.2 1181.1C1770.6 1181.1 1774.1 1181.7 1777.6 1181.7C1781.0 1181.7 1784.5 1179.6 1787.9 1179.1C1792.0 1178.5 1796.0 1177.8 1800.0 1177.8C1804.3 1177.8 1808.6 1179.1 1813.0 1179.1C1816.4 1179.1 1819.9 1177.5 1823.3 1177.2C1826.8 1176.8 1830.3 1176.5 1833.7 1176.5C1837.2 1176.5 1840.6 1178.5 1844.1 1178.5C1847.6 1178.5 1851.0 1177.7 1854.5 1177.2C1857.9 1176.7 1861.4 1175.2 1864.9 1175.2C1868.3 1175.2 1871.8 1176.8 1875.2 1177.2C1878.7 1177.5 1882.1 1177.8 1885.6 1177.8C1889.1 1177.8 1892.5 1175.9 1896.0 1175.9C1899.4 1175.9 1902.9 1176.7 1906.4 1177.2C1909.8 1177.6 1913.3 1178.5 1916.7 1178.5C1920.2 1178.5 1923.6 1176.8 1927.1 1176.5C1930.6 1176.2 1934.0 1175.9 1937.5 1175.9C1940.9 1175.9 1944.4 1177.2 1947.9 1177.2C1951.3 1177.2 1954.8 1176.7 1958.2 1176.5C1961.7 1176.3 1965.2 1175.9 1968.6 1175.9C1972.9 1175.9 1977.3 1177.2 1981.6 1177.2C1985.9 1177.2 1990.2 1176.5 1994.6 1176.5C1998.9 1176.5 2003.2 1177.5 2007.5 1177.8C2011.8 1178.1 2016.2 1178.5 2020.5 1178.5C2024.8 1178.5 2029.1 1177.8 2033.5 1177.8C2037.8 1177.8 2042.1 1178.8 2046.4 1179.1C2050.8 1179.4 2055.1 1179.6 2059.4 1179.8C2063.7 1180.0 2068.1 1180.2 2072.4 1180.4C2076.7 1180.6 2081.0 1180.9 2085.3 1181.1C2090.2 1181.3 2095.1 1181.7 2100.0 1181.7C2104.3 1181.7 2108.6 1181.1 2113.0 1181.1C2117.3 1181.1 2121.6 1181.5 2125.9 1181.7C2130.3 1181.9 2134.6 1182.1 2138.9 1182.4C2143.2 1182.6 2147.6 1182.8 2151.9 1183.0C2156.2 1183.2 2160.5 1183.7 2164.9 1183.7C2169.2 1183.7 2173.5 1183.7 2177.8 1183.7C2182.1 1183.7 2186.5 1184.7 2190.8 1185.0C2195.1 1185.2 2199.4 1185.6 2203.8 1185.6C2208.1 1185.6 2212.4 1185.6 2216.7 1185.6C2221.1 1185.6 2225.4 1186.0 2229.7 1186.3C2234.0 1186.5 2238.3 1186.9 2242.7 1186.9C2247.0 1186.9 2251.3 1186.9 2255.6 1186.9C2260.0 1186.9 2264.3 1187.3 2268.6 1187.5C2272.9 1187.8 2277.3 1188.1 2281.6 1188.2C2285.9 1188.3 2290.2 1188.5 2294.6 1188.5C2297.8 1188.5 2301.1 1188.5 2304.3 1188.5"/>
<path class="lg" stroke="#2080c2" d="M1716.8 124.3H1806.4"/>
<text transform="translate(1815.8 147.7) scale(1.030 1)">L=1λ</text>
<path class="lg" stroke="#dc4c4c" d="M2050.5 124.3H2140.1"/>
<text transform="translate(2148.9 147.7) scale(1.030 1)">L=2λ</text>
<path class="lg" stroke="#8abd4a" d="M1716.8 196.3H1806.4"/>
<text transform="translate(1815.8 219.4) scale(1.030 1)">L=3λ</text>
<path class="lg" stroke="#8b62a9" d="M2050.5 196.3H2140.1"/>
<text transform="translate(2148.9 219.4) scale(1.030 1)">L=4λ</text>
<path class="lg" stroke="#00adcb" d="M1716.8 268.0H1806.4"/>
<text transform="translate(1815.8 291.2) scale(1.030 1)">L=5λ</text>
<path class="lg" stroke="#ff9738" d="M2050.5 268.0H2140.1"/>
<text transform="translate(2148.9 291.2) scale(1.030 1)">L=6λ</text>
<path class="lg" stroke="#0b4f7d" d="M1716.8 339.7H1806.4"/>
<text transform="translate(1815.8 362.9) scale(1.030 1)">L=7 λ</text>
<path class="lg" stroke="#8e2323" d="M2050.5 339.7H2140.1"/>
<text transform="translate(2148.9 362.9) scale(1.030 1)">L=8λ</text>
<path class="lg" stroke="#5e8226" d="M1716.8 413.5H1806.4"/>
<text transform="translate(1815.8 434.7) scale(1.030 1)">L=9λ</text>
</svg>
</body>
</html>
